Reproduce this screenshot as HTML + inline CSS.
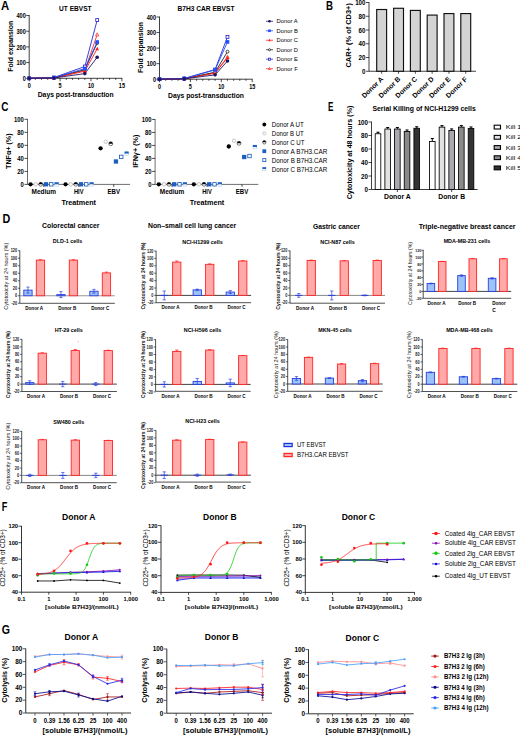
<!DOCTYPE html>
<html><head><meta charset="utf-8"><style>
html,body{margin:0;padding:0;background:#fff;}
body{width:520px;height:739px;overflow:hidden;}
svg{display:block;}
text{font-family:"Liberation Sans", sans-serif;}
</style></head><body>
<svg width="520" height="739" viewBox="0 0 520 739">
<rect width="520" height="739" fill="#fff"/>
<text x="1" y="10.27" font-size="12.6" font-weight="bold" textLength="8.2" lengthAdjust="spacingAndGlyphs">A</text>
<text x="75.3" y="11.38" font-size="6.6" font-weight="bold" text-anchor="middle" textLength="32.5" lengthAdjust="spacingAndGlyphs">UT EBVST</text>
<line x1="29.2" y1="15.1" x2="29.2" y2="78.3" stroke="#000" stroke-width="0.75"/>
<line x1="29.2" y1="78.3" x2="122.3" y2="78.3" stroke="#000" stroke-width="0.75"/>
<line x1="26.2" y1="78.3" x2="29.2" y2="78.3" stroke="#000" stroke-width="0.7"/>
<text x="25.8" y="80.94" font-size="6.5" font-weight="bold" text-anchor="end" textLength="3.11" lengthAdjust="spacingAndGlyphs">0</text>
<line x1="26.2" y1="62.6" x2="29.2" y2="62.6" stroke="#000" stroke-width="0.7"/>
<text x="25.8" y="65.24" font-size="6.5" font-weight="bold" text-anchor="end" textLength="9.34" lengthAdjust="spacingAndGlyphs">100</text>
<line x1="26.2" y1="46.9" x2="29.2" y2="46.9" stroke="#000" stroke-width="0.7"/>
<text x="25.8" y="49.54" font-size="6.5" font-weight="bold" text-anchor="end" textLength="9.34" lengthAdjust="spacingAndGlyphs">200</text>
<line x1="26.2" y1="31.2" x2="29.2" y2="31.2" stroke="#000" stroke-width="0.7"/>
<text x="25.8" y="33.84" font-size="6.5" font-weight="bold" text-anchor="end" textLength="9.34" lengthAdjust="spacingAndGlyphs">300</text>
<line x1="26.2" y1="15.5" x2="29.2" y2="15.5" stroke="#000" stroke-width="0.7"/>
<text x="25.8" y="18.14" font-size="6.5" font-weight="bold" text-anchor="end" textLength="9.34" lengthAdjust="spacingAndGlyphs">400</text>
<line x1="29.2" y1="78.3" x2="29.2" y2="81.3" stroke="#000" stroke-width="0.7"/>
<line x1="35.38" y1="78.3" x2="35.38" y2="79.9" stroke="#000" stroke-width="0.7"/>
<line x1="41.56" y1="78.3" x2="41.56" y2="79.9" stroke="#000" stroke-width="0.7"/>
<line x1="47.74" y1="78.3" x2="47.74" y2="79.9" stroke="#000" stroke-width="0.7"/>
<line x1="53.92" y1="78.3" x2="53.92" y2="79.9" stroke="#000" stroke-width="0.7"/>
<line x1="60.1" y1="78.3" x2="60.1" y2="81.3" stroke="#000" stroke-width="0.7"/>
<line x1="66.28" y1="78.3" x2="66.28" y2="79.9" stroke="#000" stroke-width="0.7"/>
<line x1="72.46" y1="78.3" x2="72.46" y2="79.9" stroke="#000" stroke-width="0.7"/>
<line x1="78.64" y1="78.3" x2="78.64" y2="79.9" stroke="#000" stroke-width="0.7"/>
<line x1="84.82" y1="78.3" x2="84.82" y2="79.9" stroke="#000" stroke-width="0.7"/>
<line x1="91" y1="78.3" x2="91" y2="81.3" stroke="#000" stroke-width="0.7"/>
<line x1="97.18" y1="78.3" x2="97.18" y2="79.9" stroke="#000" stroke-width="0.7"/>
<line x1="103.36" y1="78.3" x2="103.36" y2="79.9" stroke="#000" stroke-width="0.7"/>
<line x1="109.54" y1="78.3" x2="109.54" y2="79.9" stroke="#000" stroke-width="0.7"/>
<line x1="115.72" y1="78.3" x2="115.72" y2="79.9" stroke="#000" stroke-width="0.7"/>
<line x1="121.9" y1="78.3" x2="121.9" y2="81.3" stroke="#000" stroke-width="0.7"/>
<text x="29.2" y="88.07" font-size="6.3" font-weight="bold" text-anchor="middle" textLength="3.06" lengthAdjust="spacingAndGlyphs">0</text>
<text x="60.1" y="88.07" font-size="6.3" font-weight="bold" text-anchor="middle" textLength="3.06" lengthAdjust="spacingAndGlyphs">5</text>
<text x="91" y="88.07" font-size="6.3" font-weight="bold" text-anchor="middle" textLength="6.12" lengthAdjust="spacingAndGlyphs">10</text>
<text x="121.9" y="88.07" font-size="6.3" font-weight="bold" text-anchor="middle" textLength="6.12" lengthAdjust="spacingAndGlyphs">15</text>
<text x="75.7" y="96.94" font-size="6.5" font-weight="bold" text-anchor="middle" textLength="76" lengthAdjust="spacingAndGlyphs">Days post-transduction</text>
<text x="10.2" y="48.72" font-size="7" font-weight="bold" text-anchor="middle" textLength="51" lengthAdjust="spacingAndGlyphs" transform="rotate(-90 10.2 46.2)">Fold expansion</text>
<polyline points="29.2,78.3 53.92,77.52 84.82,66.52 97.18,20.05" stroke="#2a2ad0" stroke-width="0.9" fill="none"/>
<polyline points="29.2,78.3 53.92,77.83 84.82,70.45 97.18,34.65" stroke="#ff3030" stroke-width="0.9" fill="none"/>
<polyline points="29.2,78.3 53.92,77.83 84.82,69.66 97.18,43.13" stroke="#222222" stroke-width="0.9" fill="none"/>
<polyline points="29.2,78.3 53.92,77.83 84.82,71.23 97.18,48.78" stroke="#ff1f1f" stroke-width="0.9" fill="none"/>
<polyline points="29.2,78.3 53.92,77.67 84.82,68.57 97.18,42.03" stroke="#1f4fff" stroke-width="0.9" fill="none"/>
<polyline points="29.2,78.3 53.92,77.99 84.82,73.59 97.18,57.26" stroke="#221466" stroke-width="0.9" fill="none"/>
<rect x="27.76" y="76.86" width="2.88" height="2.88" fill="#fff" stroke="#2a2ad0" stroke-width="0.85"/>
<rect x="52.48" y="76.08" width="2.88" height="2.88" fill="#fff" stroke="#2a2ad0" stroke-width="0.85"/>
<rect x="83.38" y="65.08" width="2.88" height="2.88" fill="#fff" stroke="#2a2ad0" stroke-width="0.85"/>
<rect x="95.74" y="18.61" width="2.88" height="2.88" fill="#fff" stroke="#2a2ad0" stroke-width="0.85"/>
<path d="M29.2,76.5 L30.82,79.56 L27.58,79.56 Z" stroke="#ff3030" stroke-width="0.85" fill="#fff"/>
<path d="M53.92,76.03 L55.54,79.09 L52.3,79.09 Z" stroke="#ff3030" stroke-width="0.85" fill="#fff"/>
<path d="M84.82,68.65 L86.44,71.71 L83.2,71.71 Z" stroke="#ff3030" stroke-width="0.85" fill="#fff"/>
<path d="M97.18,32.85 L98.8,35.91 L95.56,35.91 Z" stroke="#ff3030" stroke-width="0.85" fill="#fff"/>
<circle cx="29.2" cy="78.3" r="1.44" fill="#fff" stroke="#222222" stroke-width="0.85"/>
<circle cx="53.92" cy="77.83" r="1.44" fill="#fff" stroke="#222222" stroke-width="0.85"/>
<circle cx="84.82" cy="69.66" r="1.44" fill="#fff" stroke="#222222" stroke-width="0.85"/>
<circle cx="97.18" cy="43.13" r="1.44" fill="#fff" stroke="#222222" stroke-width="0.85"/>
<path d="M29.2,76.32 L31,79.74 L27.4,79.74 Z" stroke="none" stroke-width="0.8" fill="#ff1f1f"/>
<path d="M53.92,75.85 L55.72,79.27 L52.12,79.27 Z" stroke="none" stroke-width="0.8" fill="#ff1f1f"/>
<path d="M84.82,69.25 L86.62,72.67 L83.02,72.67 Z" stroke="none" stroke-width="0.8" fill="#ff1f1f"/>
<path d="M97.18,46.8 L98.98,50.22 L95.38,50.22 Z" stroke="none" stroke-width="0.8" fill="#ff1f1f"/>
<rect x="27.4" y="76.5" width="3.6" height="3.6" fill="#1f4fff" stroke="none" stroke-width="0.8"/>
<rect x="52.12" y="75.87" width="3.6" height="3.6" fill="#1f4fff" stroke="none" stroke-width="0.8"/>
<rect x="83.02" y="66.77" width="3.6" height="3.6" fill="#1f4fff" stroke="none" stroke-width="0.8"/>
<rect x="95.38" y="40.23" width="3.6" height="3.6" fill="#1f4fff" stroke="none" stroke-width="0.8"/>
<circle cx="29.2" cy="78.3" r="1.8" fill="#221466" stroke="none" stroke-width="0.6"/>
<circle cx="53.92" cy="77.99" r="1.8" fill="#221466" stroke="none" stroke-width="0.6"/>
<circle cx="84.82" cy="73.59" r="1.8" fill="#221466" stroke="none" stroke-width="0.6"/>
<circle cx="97.18" cy="57.26" r="1.8" fill="#221466" stroke="none" stroke-width="0.6"/>
<text x="206" y="11.38" font-size="6.6" font-weight="bold" text-anchor="middle" textLength="57" lengthAdjust="spacingAndGlyphs">B7H3 CAR EBVST</text>
<line x1="159.5" y1="16.6" x2="159.5" y2="79.2" stroke="#000" stroke-width="0.75"/>
<line x1="159.5" y1="79.2" x2="252.6" y2="79.2" stroke="#000" stroke-width="0.75"/>
<line x1="156.5" y1="79.2" x2="159.5" y2="79.2" stroke="#000" stroke-width="0.7"/>
<text x="156.1" y="81.84" font-size="6.5" font-weight="bold" text-anchor="end" textLength="3.11" lengthAdjust="spacingAndGlyphs">0</text>
<line x1="156.5" y1="63.65" x2="159.5" y2="63.65" stroke="#000" stroke-width="0.7"/>
<text x="156.1" y="66.29" font-size="6.5" font-weight="bold" text-anchor="end" textLength="9.34" lengthAdjust="spacingAndGlyphs">100</text>
<line x1="156.5" y1="48.1" x2="159.5" y2="48.1" stroke="#000" stroke-width="0.7"/>
<text x="156.1" y="50.74" font-size="6.5" font-weight="bold" text-anchor="end" textLength="9.34" lengthAdjust="spacingAndGlyphs">200</text>
<line x1="156.5" y1="32.55" x2="159.5" y2="32.55" stroke="#000" stroke-width="0.7"/>
<text x="156.1" y="35.19" font-size="6.5" font-weight="bold" text-anchor="end" textLength="9.34" lengthAdjust="spacingAndGlyphs">300</text>
<line x1="156.5" y1="17" x2="159.5" y2="17" stroke="#000" stroke-width="0.7"/>
<text x="156.1" y="19.64" font-size="6.5" font-weight="bold" text-anchor="end" textLength="9.34" lengthAdjust="spacingAndGlyphs">400</text>
<line x1="159.5" y1="79.2" x2="159.5" y2="82.2" stroke="#000" stroke-width="0.7"/>
<line x1="165.68" y1="79.2" x2="165.68" y2="80.8" stroke="#000" stroke-width="0.7"/>
<line x1="171.86" y1="79.2" x2="171.86" y2="80.8" stroke="#000" stroke-width="0.7"/>
<line x1="178.04" y1="79.2" x2="178.04" y2="80.8" stroke="#000" stroke-width="0.7"/>
<line x1="184.22" y1="79.2" x2="184.22" y2="80.8" stroke="#000" stroke-width="0.7"/>
<line x1="190.4" y1="79.2" x2="190.4" y2="82.2" stroke="#000" stroke-width="0.7"/>
<line x1="196.58" y1="79.2" x2="196.58" y2="80.8" stroke="#000" stroke-width="0.7"/>
<line x1="202.76" y1="79.2" x2="202.76" y2="80.8" stroke="#000" stroke-width="0.7"/>
<line x1="208.94" y1="79.2" x2="208.94" y2="80.8" stroke="#000" stroke-width="0.7"/>
<line x1="215.12" y1="79.2" x2="215.12" y2="80.8" stroke="#000" stroke-width="0.7"/>
<line x1="221.3" y1="79.2" x2="221.3" y2="82.2" stroke="#000" stroke-width="0.7"/>
<line x1="227.48" y1="79.2" x2="227.48" y2="80.8" stroke="#000" stroke-width="0.7"/>
<line x1="233.66" y1="79.2" x2="233.66" y2="80.8" stroke="#000" stroke-width="0.7"/>
<line x1="239.84" y1="79.2" x2="239.84" y2="80.8" stroke="#000" stroke-width="0.7"/>
<line x1="246.02" y1="79.2" x2="246.02" y2="80.8" stroke="#000" stroke-width="0.7"/>
<line x1="252.2" y1="79.2" x2="252.2" y2="82.2" stroke="#000" stroke-width="0.7"/>
<text x="159.5" y="88.97" font-size="6.3" font-weight="bold" text-anchor="middle" textLength="3.06" lengthAdjust="spacingAndGlyphs">0</text>
<text x="190.4" y="88.97" font-size="6.3" font-weight="bold" text-anchor="middle" textLength="3.06" lengthAdjust="spacingAndGlyphs">5</text>
<text x="221.3" y="88.97" font-size="6.3" font-weight="bold" text-anchor="middle" textLength="6.12" lengthAdjust="spacingAndGlyphs">10</text>
<text x="252.2" y="88.97" font-size="6.3" font-weight="bold" text-anchor="middle" textLength="6.12" lengthAdjust="spacingAndGlyphs">15</text>
<text x="206" y="97.84" font-size="6.5" font-weight="bold" text-anchor="middle" textLength="76" lengthAdjust="spacingAndGlyphs">Days post-transduction</text>
<text x="140.4" y="49.92" font-size="7" font-weight="bold" text-anchor="middle" textLength="51" lengthAdjust="spacingAndGlyphs" transform="rotate(-90 140.4 47.4)">Fold expansion</text>
<polyline points="159.5,79.2 184.22,78.42 215.12,69.56 227.48,36.9" stroke="#2a2ad0" stroke-width="0.9" fill="none"/>
<polyline points="159.5,79.2 184.22,78.73 215.12,72.67 227.48,57.12" stroke="#ff3030" stroke-width="0.9" fill="none"/>
<polyline points="159.5,79.2 184.22,78.73 215.12,72.2 227.48,51.68" stroke="#222222" stroke-width="0.9" fill="none"/>
<polyline points="159.5,79.2 184.22,78.73 215.12,73.29 227.48,57.74" stroke="#ff1f1f" stroke-width="0.9" fill="none"/>
<polyline points="159.5,79.2 184.22,78.58 215.12,69.87 227.48,41.88" stroke="#1f4fff" stroke-width="0.9" fill="none"/>
<polyline points="159.5,79.2 184.22,78.89 215.12,74.85 227.48,61.01" stroke="#221466" stroke-width="0.9" fill="none"/>
<rect x="158.06" y="77.76" width="2.88" height="2.88" fill="#fff" stroke="#2a2ad0" stroke-width="0.85"/>
<rect x="182.78" y="76.98" width="2.88" height="2.88" fill="#fff" stroke="#2a2ad0" stroke-width="0.85"/>
<rect x="213.68" y="68.12" width="2.88" height="2.88" fill="#fff" stroke="#2a2ad0" stroke-width="0.85"/>
<rect x="226.04" y="35.46" width="2.88" height="2.88" fill="#fff" stroke="#2a2ad0" stroke-width="0.85"/>
<path d="M159.5,77.4 L161.12,80.46 L157.88,80.46 Z" stroke="#ff3030" stroke-width="0.85" fill="#fff"/>
<path d="M184.22,76.93 L185.84,79.99 L182.6,79.99 Z" stroke="#ff3030" stroke-width="0.85" fill="#fff"/>
<path d="M215.12,70.87 L216.74,73.93 L213.5,73.93 Z" stroke="#ff3030" stroke-width="0.85" fill="#fff"/>
<path d="M227.48,55.32 L229.1,58.38 L225.86,58.38 Z" stroke="#ff3030" stroke-width="0.85" fill="#fff"/>
<circle cx="159.5" cy="79.2" r="1.44" fill="#fff" stroke="#222222" stroke-width="0.85"/>
<circle cx="184.22" cy="78.73" r="1.44" fill="#fff" stroke="#222222" stroke-width="0.85"/>
<circle cx="215.12" cy="72.2" r="1.44" fill="#fff" stroke="#222222" stroke-width="0.85"/>
<circle cx="227.48" cy="51.68" r="1.44" fill="#fff" stroke="#222222" stroke-width="0.85"/>
<path d="M159.5,77.22 L161.3,80.64 L157.7,80.64 Z" stroke="none" stroke-width="0.8" fill="#ff1f1f"/>
<path d="M184.22,76.75 L186.02,80.17 L182.42,80.17 Z" stroke="none" stroke-width="0.8" fill="#ff1f1f"/>
<path d="M215.12,71.31 L216.92,74.73 L213.32,74.73 Z" stroke="none" stroke-width="0.8" fill="#ff1f1f"/>
<path d="M227.48,55.76 L229.28,59.18 L225.68,59.18 Z" stroke="none" stroke-width="0.8" fill="#ff1f1f"/>
<rect x="157.7" y="77.4" width="3.6" height="3.6" fill="#1f4fff" stroke="none" stroke-width="0.8"/>
<rect x="182.42" y="76.78" width="3.6" height="3.6" fill="#1f4fff" stroke="none" stroke-width="0.8"/>
<rect x="213.32" y="68.07" width="3.6" height="3.6" fill="#1f4fff" stroke="none" stroke-width="0.8"/>
<rect x="225.68" y="40.08" width="3.6" height="3.6" fill="#1f4fff" stroke="none" stroke-width="0.8"/>
<circle cx="159.5" cy="79.2" r="1.8" fill="#221466" stroke="none" stroke-width="0.6"/>
<circle cx="184.22" cy="78.89" r="1.8" fill="#221466" stroke="none" stroke-width="0.6"/>
<circle cx="215.12" cy="74.85" r="1.8" fill="#221466" stroke="none" stroke-width="0.6"/>
<circle cx="227.48" cy="61.01" r="1.8" fill="#221466" stroke="none" stroke-width="0.6"/>
<line x1="266" y1="21.3" x2="273" y2="21.3" stroke="#221466" stroke-width="0.75"/>
<circle cx="269.5" cy="21.3" r="1.3" fill="#221466" stroke="none" stroke-width="0.6"/>
<text x="276.6" y="23.46" font-size="6" textLength="21.2" lengthAdjust="spacingAndGlyphs">Donor A</text>
<line x1="266" y1="30.78" x2="273" y2="30.78" stroke="#1f4fff" stroke-width="0.75"/>
<rect x="268.2" y="29.48" width="2.6" height="2.6" fill="#1f4fff" stroke="none" stroke-width="0.8"/>
<text x="276.6" y="32.94" font-size="6" textLength="21.2" lengthAdjust="spacingAndGlyphs">Donor B</text>
<line x1="266" y1="40.26" x2="273" y2="40.26" stroke="#ff1f1f" stroke-width="0.75"/>
<path d="M269.5,38.83 L270.8,41.3 L268.2,41.3 Z" stroke="none" stroke-width="0.8" fill="#ff1f1f"/>
<text x="276.6" y="42.42" font-size="6" textLength="21.2" lengthAdjust="spacingAndGlyphs">Donor C</text>
<line x1="266" y1="49.74" x2="273" y2="49.74" stroke="#222222" stroke-width="0.75"/>
<circle cx="269.5" cy="49.74" r="1.04" fill="#fff" stroke="#222222" stroke-width="0.85"/>
<text x="276.6" y="51.9" font-size="6" textLength="21.2" lengthAdjust="spacingAndGlyphs">Donor D</text>
<line x1="266" y1="59.22" x2="273" y2="59.22" stroke="#2a2ad0" stroke-width="0.75"/>
<rect x="268.46" y="58.18" width="2.08" height="2.08" fill="#fff" stroke="#2a2ad0" stroke-width="0.85"/>
<text x="276.6" y="61.38" font-size="6" textLength="21.2" lengthAdjust="spacingAndGlyphs">Donor E</text>
<line x1="266" y1="68.7" x2="273" y2="68.7" stroke="#ff3030" stroke-width="0.75"/>
<path d="M269.5,67.4 L270.67,69.61 L268.33,69.61 Z" stroke="#ff3030" stroke-width="0.85" fill="#fff"/>
<text x="276.6" y="70.86" font-size="6" textLength="21.2" lengthAdjust="spacingAndGlyphs">Donor F</text>
<text x="326" y="10.07" font-size="12.6" font-weight="bold" textLength="7" lengthAdjust="spacingAndGlyphs">B</text>
<line x1="369" y1="2.1" x2="369" y2="71.25" stroke="#000" stroke-width="0.75"/>
<line x1="369" y1="71.25" x2="476" y2="71.25" stroke="#000" stroke-width="0.75"/>
<line x1="366" y1="71.25" x2="369" y2="71.25" stroke="#000" stroke-width="0.7"/>
<text x="365.5" y="73.85" font-size="6.4" font-weight="bold" text-anchor="end" textLength="3.45" lengthAdjust="spacingAndGlyphs">0</text>
<line x1="366" y1="57.5" x2="369" y2="57.5" stroke="#000" stroke-width="0.7"/>
<text x="365.5" y="60.1" font-size="6.4" font-weight="bold" text-anchor="end" textLength="6.9" lengthAdjust="spacingAndGlyphs">20</text>
<line x1="366" y1="43.75" x2="369" y2="43.75" stroke="#000" stroke-width="0.7"/>
<text x="365.5" y="46.35" font-size="6.4" font-weight="bold" text-anchor="end" textLength="6.9" lengthAdjust="spacingAndGlyphs">40</text>
<line x1="366" y1="30" x2="369" y2="30" stroke="#000" stroke-width="0.7"/>
<text x="365.5" y="32.6" font-size="6.4" font-weight="bold" text-anchor="end" textLength="6.9" lengthAdjust="spacingAndGlyphs">60</text>
<line x1="366" y1="16.25" x2="369" y2="16.25" stroke="#000" stroke-width="0.7"/>
<text x="365.5" y="18.85" font-size="6.4" font-weight="bold" text-anchor="end" textLength="6.9" lengthAdjust="spacingAndGlyphs">80</text>
<line x1="366" y1="2.5" x2="369" y2="2.5" stroke="#000" stroke-width="0.7"/>
<text x="365.5" y="5.1" font-size="6.4" font-weight="bold" text-anchor="end" textLength="10.34" lengthAdjust="spacingAndGlyphs">100</text>
<rect x="376.7" y="9.51" width="9.9" height="61.74" fill="#d4d4d4" stroke="#111" stroke-width="1.15"/>
<line x1="381.65" y1="71.25" x2="381.65" y2="73.75" stroke="#000" stroke-width="0.7"/>
<text x="383.85" y="79.65" font-size="6.9" font-weight="bold" text-anchor="end" transform="rotate(-44 383.85 79.65)" textLength="27" lengthAdjust="spacingAndGlyphs">Donor A</text>
<rect x="393.6" y="8.28" width="9.9" height="62.97" fill="#d4d4d4" stroke="#111" stroke-width="1.15"/>
<line x1="398.55" y1="71.25" x2="398.55" y2="73.75" stroke="#000" stroke-width="0.7"/>
<text x="400.75" y="79.65" font-size="6.9" font-weight="bold" text-anchor="end" transform="rotate(-44 400.75 79.65)" textLength="27" lengthAdjust="spacingAndGlyphs">Donor B</text>
<rect x="410.4" y="10.41" width="9.9" height="60.84" fill="#d4d4d4" stroke="#111" stroke-width="1.15"/>
<line x1="415.35" y1="71.25" x2="415.35" y2="73.75" stroke="#000" stroke-width="0.7"/>
<text x="417.55" y="79.65" font-size="6.9" font-weight="bold" text-anchor="end" transform="rotate(-44 417.55 79.65)" textLength="27" lengthAdjust="spacingAndGlyphs">Donor C</text>
<rect x="427.2" y="15.08" width="9.9" height="56.17" fill="#d4d4d4" stroke="#111" stroke-width="1.15"/>
<line x1="432.15" y1="71.25" x2="432.15" y2="73.75" stroke="#000" stroke-width="0.7"/>
<text x="434.35" y="79.65" font-size="6.9" font-weight="bold" text-anchor="end" transform="rotate(-44 434.35 79.65)" textLength="27" lengthAdjust="spacingAndGlyphs">Donor D</text>
<rect x="444" y="13.57" width="9.9" height="57.68" fill="#d4d4d4" stroke="#111" stroke-width="1.15"/>
<line x1="448.95" y1="71.25" x2="448.95" y2="73.75" stroke="#000" stroke-width="0.7"/>
<text x="451.15" y="79.65" font-size="6.9" font-weight="bold" text-anchor="end" transform="rotate(-44 451.15 79.65)" textLength="27" lengthAdjust="spacingAndGlyphs">Donor E</text>
<rect x="460.8" y="13.57" width="9.9" height="57.68" fill="#d4d4d4" stroke="#111" stroke-width="1.15"/>
<line x1="465.75" y1="71.25" x2="465.75" y2="73.75" stroke="#000" stroke-width="0.7"/>
<text x="467.95" y="79.65" font-size="6.9" font-weight="bold" text-anchor="end" transform="rotate(-44 467.95 79.65)" textLength="27" lengthAdjust="spacingAndGlyphs">Donor F</text>
<text x="348.1" y="37.82" font-size="7" font-weight="bold" text-anchor="middle" textLength="64.5" lengthAdjust="spacingAndGlyphs" transform="rotate(-90 348.1 35.3)">CAR+ (% of CD3+)</text>
<text x="1.2" y="110.67" font-size="12.6" font-weight="bold" textLength="7.2" lengthAdjust="spacingAndGlyphs">C</text>
<line x1="27.5" y1="118.9" x2="27.5" y2="184.4" stroke="#555" stroke-width="0.85"/>
<line x1="27.5" y1="184.4" x2="130.05" y2="184.4" stroke="#555" stroke-width="0.85"/>
<line x1="24.5" y1="184.4" x2="27.5" y2="184.4" stroke="#000" stroke-width="0.7"/>
<text x="23.9" y="187" font-size="6.4" font-weight="bold" text-anchor="end" textLength="3.28" lengthAdjust="spacingAndGlyphs">0</text>
<line x1="24.5" y1="171.38" x2="27.5" y2="171.38" stroke="#000" stroke-width="0.7"/>
<text x="23.9" y="173.98" font-size="6.4" font-weight="bold" text-anchor="end" textLength="6.56" lengthAdjust="spacingAndGlyphs">20</text>
<line x1="24.5" y1="158.36" x2="27.5" y2="158.36" stroke="#000" stroke-width="0.7"/>
<text x="23.9" y="160.96" font-size="6.4" font-weight="bold" text-anchor="end" textLength="6.56" lengthAdjust="spacingAndGlyphs">40</text>
<line x1="24.5" y1="145.34" x2="27.5" y2="145.34" stroke="#000" stroke-width="0.7"/>
<text x="23.9" y="147.94" font-size="6.4" font-weight="bold" text-anchor="end" textLength="6.56" lengthAdjust="spacingAndGlyphs">60</text>
<line x1="24.5" y1="132.32" x2="27.5" y2="132.32" stroke="#000" stroke-width="0.7"/>
<text x="23.9" y="134.92" font-size="6.4" font-weight="bold" text-anchor="end" textLength="6.56" lengthAdjust="spacingAndGlyphs">80</text>
<line x1="24.5" y1="119.3" x2="27.5" y2="119.3" stroke="#000" stroke-width="0.7"/>
<text x="23.9" y="121.9" font-size="6.4" font-weight="bold" text-anchor="end" textLength="9.84" lengthAdjust="spacingAndGlyphs">100</text>
<line x1="43.75" y1="184.4" x2="43.75" y2="186.9" stroke="#000" stroke-width="0.7"/>
<text x="43.75" y="194.1" font-size="6.4" font-weight="bold" text-anchor="middle" textLength="24.5" lengthAdjust="spacingAndGlyphs">Medium</text>
<line x1="78.75" y1="184.4" x2="78.75" y2="186.9" stroke="#000" stroke-width="0.7"/>
<text x="78.75" y="194.1" font-size="6.4" font-weight="bold" text-anchor="middle" textLength="9.5" lengthAdjust="spacingAndGlyphs">HIV</text>
<line x1="113.75" y1="184.4" x2="113.75" y2="186.9" stroke="#000" stroke-width="0.7"/>
<text x="113.75" y="194.1" font-size="6.4" font-weight="bold" text-anchor="middle" textLength="12.5" lengthAdjust="spacingAndGlyphs">EBV</text>
<text x="78.75" y="204.56" font-size="7.1" font-weight="bold" text-anchor="middle" textLength="34.5" lengthAdjust="spacingAndGlyphs">Treatment</text>
<text x="8" y="153.83" font-size="7.3" font-weight="bold" text-anchor="middle" textLength="35.5" lengthAdjust="spacingAndGlyphs" transform="rotate(-90 8 151.2)">TNFα+ (%)</text>
<circle cx="30.55" cy="184.3" r="2.15" fill="#000" stroke="none" stroke-width="0.6"/>
<circle cx="35.75" cy="184.3" r="1.72" fill="#fff" stroke="#bbbbbb" stroke-width="0.85"/>
<circle cx="40.75" cy="184.3" r="1.94" fill="#fff" stroke="#000" stroke-width="0.5"/>
<path d="M38.81,184.3 A1.94,1.94 0 0 1 42.69,184.3 Z" stroke="none" stroke-width="0.8" fill="#000"/>
<rect x="43.8" y="182.15" width="4.3" height="4.3" fill="#1d5fc0" stroke="none" stroke-width="0.8"/>
<rect x="49.53" y="182.58" width="3.44" height="3.44" fill="#fff" stroke="#1d5fc0" stroke-width="0.85"/>
<rect x="54.82" y="182.48" width="3.65" height="3.65" fill="#fff" stroke="#9cc0ee" stroke-width="0.5"/>
<rect x="54.61" y="182.26" width="4.08" height="2.04" fill="#1d5fc0" stroke="none" stroke-width="0.8"/>
<circle cx="65.55" cy="184.3" r="2.15" fill="#000" stroke="none" stroke-width="0.6"/>
<circle cx="70.75" cy="184.3" r="1.72" fill="#fff" stroke="#bbbbbb" stroke-width="0.85"/>
<circle cx="75.75" cy="184.3" r="1.94" fill="#fff" stroke="#000" stroke-width="0.5"/>
<path d="M73.81,184.3 A1.94,1.94 0 0 1 77.69,184.3 Z" stroke="none" stroke-width="0.8" fill="#000"/>
<rect x="78.8" y="182.15" width="4.3" height="4.3" fill="#1d5fc0" stroke="none" stroke-width="0.8"/>
<rect x="84.53" y="182.58" width="3.44" height="3.44" fill="#fff" stroke="#1d5fc0" stroke-width="0.85"/>
<rect x="89.82" y="182.48" width="3.65" height="3.65" fill="#fff" stroke="#9cc0ee" stroke-width="0.5"/>
<rect x="89.61" y="182.26" width="4.08" height="2.04" fill="#1d5fc0" stroke="none" stroke-width="0.8"/>
<circle cx="100.55" cy="148.34" r="2.15" fill="#000" stroke="none" stroke-width="0.6"/>
<circle cx="105.75" cy="141.76" r="1.72" fill="#fff" stroke="#bbbbbb" stroke-width="0.85"/>
<circle cx="110.75" cy="143.74" r="1.94" fill="#fff" stroke="#000" stroke-width="0.5"/>
<path d="M108.81,143.74 A1.94,1.94 0 0 1 112.69,143.74 Z" stroke="none" stroke-width="0.8" fill="#000"/>
<rect x="113.8" y="159.34" width="4.3" height="4.3" fill="#1d5fc0" stroke="none" stroke-width="0.8"/>
<rect x="119.53" y="155.16" width="3.44" height="3.44" fill="#fff" stroke="#1d5fc0" stroke-width="0.85"/>
<rect x="124.82" y="151.77" width="3.65" height="3.65" fill="#fff" stroke="#9cc0ee" stroke-width="0.5"/>
<rect x="124.61" y="151.56" width="4.08" height="2.04" fill="#1d5fc0" stroke="none" stroke-width="0.8"/>
<line x1="155.1" y1="119.05" x2="155.1" y2="184.4" stroke="#555" stroke-width="0.85"/>
<line x1="155.1" y1="184.4" x2="258.3" y2="184.4" stroke="#555" stroke-width="0.85"/>
<line x1="152.1" y1="184.4" x2="155.1" y2="184.4" stroke="#000" stroke-width="0.7"/>
<text x="151.5" y="187" font-size="6.4" font-weight="bold" text-anchor="end" textLength="3.28" lengthAdjust="spacingAndGlyphs">0</text>
<line x1="152.1" y1="171.41" x2="155.1" y2="171.41" stroke="#000" stroke-width="0.7"/>
<text x="151.5" y="174.01" font-size="6.4" font-weight="bold" text-anchor="end" textLength="6.56" lengthAdjust="spacingAndGlyphs">20</text>
<line x1="152.1" y1="158.42" x2="155.1" y2="158.42" stroke="#000" stroke-width="0.7"/>
<text x="151.5" y="161.02" font-size="6.4" font-weight="bold" text-anchor="end" textLength="6.56" lengthAdjust="spacingAndGlyphs">40</text>
<line x1="152.1" y1="145.43" x2="155.1" y2="145.43" stroke="#000" stroke-width="0.7"/>
<text x="151.5" y="148.03" font-size="6.4" font-weight="bold" text-anchor="end" textLength="6.56" lengthAdjust="spacingAndGlyphs">60</text>
<line x1="152.1" y1="132.44" x2="155.1" y2="132.44" stroke="#000" stroke-width="0.7"/>
<text x="151.5" y="135.04" font-size="6.4" font-weight="bold" text-anchor="end" textLength="6.56" lengthAdjust="spacingAndGlyphs">80</text>
<line x1="152.1" y1="119.45" x2="155.1" y2="119.45" stroke="#000" stroke-width="0.7"/>
<text x="151.5" y="122.05" font-size="6.4" font-weight="bold" text-anchor="end" textLength="9.84" lengthAdjust="spacingAndGlyphs">100</text>
<line x1="172" y1="184.4" x2="172" y2="186.9" stroke="#000" stroke-width="0.7"/>
<text x="172" y="194.1" font-size="6.4" font-weight="bold" text-anchor="middle" textLength="24.5" lengthAdjust="spacingAndGlyphs">Medium</text>
<line x1="207" y1="184.4" x2="207" y2="186.9" stroke="#000" stroke-width="0.7"/>
<text x="207" y="194.1" font-size="6.4" font-weight="bold" text-anchor="middle" textLength="9.5" lengthAdjust="spacingAndGlyphs">HIV</text>
<line x1="242" y1="184.4" x2="242" y2="186.9" stroke="#000" stroke-width="0.7"/>
<text x="242" y="194.1" font-size="6.4" font-weight="bold" text-anchor="middle" textLength="12.5" lengthAdjust="spacingAndGlyphs">EBV</text>
<text x="207" y="204.56" font-size="7.1" font-weight="bold" text-anchor="middle" textLength="34.5" lengthAdjust="spacingAndGlyphs">Treatment</text>
<text x="135.6" y="153.83" font-size="7.3" font-weight="bold" text-anchor="middle" textLength="33.2" lengthAdjust="spacingAndGlyphs" transform="rotate(-90 135.6 151.2)">IFNγ+ (%)</text>
<circle cx="158.8" cy="184.3" r="2.15" fill="#000" stroke="none" stroke-width="0.6"/>
<circle cx="164" cy="184.3" r="1.72" fill="#fff" stroke="#bbbbbb" stroke-width="0.85"/>
<circle cx="169" cy="184.3" r="1.94" fill="#fff" stroke="#000" stroke-width="0.5"/>
<path d="M167.06,184.3 A1.94,1.94 0 0 1 170.94,184.3 Z" stroke="none" stroke-width="0.8" fill="#000"/>
<rect x="172.05" y="182.15" width="4.3" height="4.3" fill="#1d5fc0" stroke="none" stroke-width="0.8"/>
<rect x="177.78" y="182.58" width="3.44" height="3.44" fill="#fff" stroke="#1d5fc0" stroke-width="0.85"/>
<rect x="183.07" y="182.48" width="3.65" height="3.65" fill="#fff" stroke="#9cc0ee" stroke-width="0.5"/>
<rect x="182.86" y="182.26" width="4.08" height="2.04" fill="#1d5fc0" stroke="none" stroke-width="0.8"/>
<circle cx="193.8" cy="184.3" r="2.15" fill="#000" stroke="none" stroke-width="0.6"/>
<circle cx="199" cy="184.3" r="1.72" fill="#fff" stroke="#bbbbbb" stroke-width="0.85"/>
<circle cx="204" cy="184.3" r="1.94" fill="#fff" stroke="#000" stroke-width="0.5"/>
<path d="M202.06,184.3 A1.94,1.94 0 0 1 205.94,184.3 Z" stroke="none" stroke-width="0.8" fill="#000"/>
<rect x="207.05" y="182.15" width="4.3" height="4.3" fill="#1d5fc0" stroke="none" stroke-width="0.8"/>
<rect x="212.78" y="182.58" width="3.44" height="3.44" fill="#fff" stroke="#1d5fc0" stroke-width="0.85"/>
<rect x="218.07" y="182.48" width="3.65" height="3.65" fill="#fff" stroke="#9cc0ee" stroke-width="0.5"/>
<rect x="217.86" y="182.26" width="4.08" height="2.04" fill="#1d5fc0" stroke="none" stroke-width="0.8"/>
<circle cx="228.8" cy="146.5" r="2.15" fill="#000" stroke="none" stroke-width="0.6"/>
<circle cx="234" cy="140.78" r="1.72" fill="#fff" stroke="#bbbbbb" stroke-width="0.85"/>
<circle cx="239" cy="143.27" r="1.94" fill="#fff" stroke="#000" stroke-width="0.5"/>
<path d="M237.06,143.27 A1.94,1.94 0 0 1 240.94,143.27 Z" stroke="none" stroke-width="0.8" fill="#000"/>
<rect x="242.05" y="154.87" width="4.3" height="4.3" fill="#1d5fc0" stroke="none" stroke-width="0.8"/>
<rect x="247.78" y="154.31" width="3.44" height="3.44" fill="#fff" stroke="#1d5fc0" stroke-width="0.85"/>
<rect x="253.07" y="145.2" width="3.65" height="3.65" fill="#fff" stroke="#9cc0ee" stroke-width="0.5"/>
<rect x="252.86" y="144.98" width="4.08" height="2.04" fill="#1d5fc0" stroke="none" stroke-width="0.8"/>
<circle cx="264.3" cy="124.5" r="1.9" fill="#000" stroke="none" stroke-width="0.6"/>
<text x="271.8" y="127.02" font-size="7" textLength="32" lengthAdjust="spacingAndGlyphs">Donor A UT</text>
<circle cx="264.3" cy="133.4" r="1.52" fill="#fff" stroke="#bbbbbb" stroke-width="0.85"/>
<text x="271.8" y="135.92" font-size="7" textLength="32" lengthAdjust="spacingAndGlyphs">Donor B UT</text>
<circle cx="264.3" cy="142.3" r="1.71" fill="#fff" stroke="#000" stroke-width="0.5"/>
<path d="M262.59,142.3 A1.71,1.71 0 0 1 266.01,142.3 Z" stroke="none" stroke-width="0.8" fill="#000"/>
<text x="271.8" y="144.82" font-size="7" textLength="32.6" lengthAdjust="spacingAndGlyphs">Donor C UT</text>
<rect x="262.4" y="149.3" width="3.8" height="3.8" fill="#1d5fc0" stroke="none" stroke-width="0.8"/>
<text x="271.8" y="153.72" font-size="7" textLength="55.5" lengthAdjust="spacingAndGlyphs">Donor A B7H3.CAR</text>
<rect x="262.78" y="158.58" width="3.04" height="3.04" fill="#fff" stroke="#1d5fc0" stroke-width="0.85"/>
<text x="271.8" y="162.62" font-size="7" textLength="55.5" lengthAdjust="spacingAndGlyphs">Donor B B7H3.CAR</text>
<rect x="262.69" y="167.38" width="3.23" height="3.23" fill="#fff" stroke="#9cc0ee" stroke-width="0.5"/>
<rect x="262.5" y="167.19" width="3.61" height="1.8" fill="#1d5fc0" stroke="none" stroke-width="0.8"/>
<text x="271.8" y="171.52" font-size="7" textLength="55.5" lengthAdjust="spacingAndGlyphs">Donor C B7H3.CAR</text>
<text x="327.9" y="110.87" font-size="12.6" font-weight="bold" textLength="5.4" lengthAdjust="spacingAndGlyphs">E</text>
<text x="424.1" y="111.21" font-size="6.7" font-weight="bold" text-anchor="middle" textLength="103.3" lengthAdjust="spacingAndGlyphs">Serial Killing of NCI-H1299 cells</text>
<line x1="371.5" y1="121.6" x2="371.5" y2="189.5" stroke="#000" stroke-width="0.75"/>
<line x1="371.5" y1="189.5" x2="477.7" y2="189.5" stroke="#000" stroke-width="0.75"/>
<line x1="368.5" y1="189.5" x2="371.5" y2="189.5" stroke="#000" stroke-width="0.7"/>
<text x="368" y="192.1" font-size="6.4" font-weight="bold" text-anchor="end" textLength="3.45" lengthAdjust="spacingAndGlyphs">0</text>
<line x1="368.5" y1="176" x2="371.5" y2="176" stroke="#000" stroke-width="0.7"/>
<text x="368" y="178.6" font-size="6.4" font-weight="bold" text-anchor="end" textLength="6.9" lengthAdjust="spacingAndGlyphs">20</text>
<line x1="368.5" y1="162.5" x2="371.5" y2="162.5" stroke="#000" stroke-width="0.7"/>
<text x="368" y="165.1" font-size="6.4" font-weight="bold" text-anchor="end" textLength="6.9" lengthAdjust="spacingAndGlyphs">40</text>
<line x1="368.5" y1="149" x2="371.5" y2="149" stroke="#000" stroke-width="0.7"/>
<text x="368" y="151.6" font-size="6.4" font-weight="bold" text-anchor="end" textLength="6.9" lengthAdjust="spacingAndGlyphs">60</text>
<line x1="368.5" y1="135.5" x2="371.5" y2="135.5" stroke="#000" stroke-width="0.7"/>
<text x="368" y="138.1" font-size="6.4" font-weight="bold" text-anchor="end" textLength="6.9" lengthAdjust="spacingAndGlyphs">80</text>
<line x1="368.5" y1="122" x2="371.5" y2="122" stroke="#000" stroke-width="0.7"/>
<text x="368" y="124.6" font-size="6.4" font-weight="bold" text-anchor="end" textLength="10.34" lengthAdjust="spacingAndGlyphs">100</text>
<rect x="375.2" y="133.75" width="5.6" height="55.75" fill="#ffffff" stroke="#000" stroke-width="0.85"/>
<line x1="378" y1="133.75" x2="378" y2="132.25" stroke="#000" stroke-width="0.9"/>
<line x1="376.5" y1="132.25" x2="379.5" y2="132.25" stroke="#000" stroke-width="1.1"/>
<rect x="384.88" y="129.02" width="5.6" height="60.48" fill="#e2e2e2" stroke="#000" stroke-width="0.85"/>
<line x1="387.68" y1="129.02" x2="387.68" y2="127.52" stroke="#000" stroke-width="0.9"/>
<line x1="386.18" y1="127.52" x2="389.18" y2="127.52" stroke="#000" stroke-width="1.1"/>
<rect x="394.56" y="129.02" width="5.6" height="60.48" fill="#a9a9b0" stroke="#000" stroke-width="0.85"/>
<line x1="397.36" y1="129.02" x2="397.36" y2="127.52" stroke="#000" stroke-width="0.9"/>
<line x1="395.86" y1="127.52" x2="398.86" y2="127.52" stroke="#000" stroke-width="1.1"/>
<rect x="404.24" y="131.52" width="5.6" height="57.98" fill="#8a8a8a" stroke="#000" stroke-width="0.85"/>
<line x1="407.04" y1="131.52" x2="407.04" y2="130.02" stroke="#000" stroke-width="0.9"/>
<line x1="405.54" y1="130.02" x2="408.54" y2="130.02" stroke="#000" stroke-width="1.1"/>
<rect x="413.92" y="128.28" width="5.6" height="61.22" fill="#333333" stroke="#000" stroke-width="0.85"/>
<line x1="416.72" y1="128.28" x2="416.72" y2="126.78" stroke="#000" stroke-width="0.9"/>
<line x1="415.22" y1="126.78" x2="418.22" y2="126.78" stroke="#000" stroke-width="1.1"/>
<line x1="397.36" y1="189.5" x2="397.36" y2="192" stroke="#000" stroke-width="0.7"/>
<text x="397.36" y="199.36" font-size="7.1" font-weight="bold" text-anchor="middle" textLength="26.8" lengthAdjust="spacingAndGlyphs">Donor A</text>
<rect x="429.5" y="141.57" width="5.6" height="47.93" fill="#ffffff" stroke="#000" stroke-width="0.85"/>
<line x1="432.3" y1="141.57" x2="432.3" y2="138.57" stroke="#000" stroke-width="0.9"/>
<line x1="430.8" y1="138.57" x2="433.8" y2="138.57" stroke="#000" stroke-width="1.1"/>
<rect x="439.18" y="127.13" width="5.6" height="62.37" fill="#e2e2e2" stroke="#000" stroke-width="0.85"/>
<line x1="441.98" y1="127.13" x2="441.98" y2="125.63" stroke="#000" stroke-width="0.9"/>
<line x1="440.48" y1="125.63" x2="443.48" y2="125.63" stroke="#000" stroke-width="1.1"/>
<rect x="448.86" y="130.44" width="5.6" height="59.06" fill="#a9a9b0" stroke="#000" stroke-width="0.85"/>
<line x1="451.66" y1="130.44" x2="451.66" y2="128.94" stroke="#000" stroke-width="0.9"/>
<line x1="450.16" y1="128.94" x2="453.16" y2="128.94" stroke="#000" stroke-width="1.1"/>
<rect x="458.54" y="127.13" width="5.6" height="62.37" fill="#8a8a8a" stroke="#000" stroke-width="0.85"/>
<line x1="461.34" y1="127.13" x2="461.34" y2="125.63" stroke="#000" stroke-width="0.9"/>
<line x1="459.84" y1="125.63" x2="462.84" y2="125.63" stroke="#000" stroke-width="1.1"/>
<rect x="468.22" y="128.48" width="5.6" height="61.02" fill="#333333" stroke="#000" stroke-width="0.85"/>
<line x1="471.02" y1="128.48" x2="471.02" y2="126.98" stroke="#000" stroke-width="0.9"/>
<line x1="469.52" y1="126.98" x2="472.52" y2="126.98" stroke="#000" stroke-width="1.1"/>
<line x1="451.66" y1="189.5" x2="451.66" y2="192" stroke="#000" stroke-width="0.7"/>
<text x="451.66" y="199.36" font-size="7.1" font-weight="bold" text-anchor="middle" textLength="26.8" lengthAdjust="spacingAndGlyphs">Donor B</text>
<text x="349.7" y="155.13" font-size="7.3" font-weight="bold" text-anchor="middle" textLength="93.7" lengthAdjust="spacingAndGlyphs" transform="rotate(-90 349.7 152.5)">Cytotoxicity at 48 hours (%)</text>
<rect x="494.2" y="125.2" width="6.3" height="3.8" fill="#ffffff" stroke="#000" stroke-width="1.1"/>
<text x="505.7" y="129.26" font-size="6" textLength="15.6" lengthAdjust="spacingAndGlyphs">Kill 1</text>
<rect x="494.2" y="135.4" width="6.3" height="3.8" fill="#e2e2e2" stroke="#000" stroke-width="1.1"/>
<text x="505.7" y="139.46" font-size="6" textLength="15.6" lengthAdjust="spacingAndGlyphs">Kill 2</text>
<rect x="494.2" y="145.6" width="6.3" height="3.8" fill="#a9a9b0" stroke="#000" stroke-width="1.1"/>
<text x="505.7" y="149.66" font-size="6" textLength="15.6" lengthAdjust="spacingAndGlyphs">Kill 3</text>
<rect x="494.2" y="155.8" width="6.3" height="3.8" fill="#8a8a8a" stroke="#000" stroke-width="1.1"/>
<text x="505.7" y="159.86" font-size="6" textLength="15.6" lengthAdjust="spacingAndGlyphs">Kill 4</text>
<rect x="494.2" y="166" width="6.3" height="3.8" fill="#333333" stroke="#000" stroke-width="1.1"/>
<text x="505.7" y="170.06" font-size="6" textLength="15.6" lengthAdjust="spacingAndGlyphs">Kill 5</text>
<text x="2.5" y="223.37" font-size="12.6" font-weight="bold" textLength="7.8" lengthAdjust="spacingAndGlyphs">D</text>
<text x="70.75" y="228.46" font-size="7.4" font-weight="bold" text-anchor="middle" textLength="57.3" lengthAdjust="spacingAndGlyphs">Colorectal cancer</text>
<text x="192.1" y="228.46" font-size="7.4" font-weight="bold" text-anchor="middle" textLength="88.3" lengthAdjust="spacingAndGlyphs">Non–small cell lung cancer</text>
<text x="336.5" y="228.86" font-size="7.4" font-weight="bold" text-anchor="middle" textLength="47" lengthAdjust="spacingAndGlyphs">Gastric cancer</text>
<text x="467.1" y="228.86" font-size="7.4" font-weight="bold" text-anchor="middle" textLength="96.8" lengthAdjust="spacingAndGlyphs">Triple-negative breast cancer</text>
<text x="67.5" y="243.24" font-size="5.4" font-weight="bold" text-anchor="middle">DLD-1 cells</text>
<line x1="19.8" y1="250.45" x2="19.8" y2="303.3" stroke="#333" stroke-width="0.85"/>
<line x1="19.8" y1="303.3" x2="114.8" y2="303.3" stroke="#333" stroke-width="0.85"/>
<line x1="19.8" y1="295.75" x2="114.8" y2="295.75" stroke="#999" stroke-width="1"/>
<line x1="18" y1="303.25" x2="19.8" y2="303.25" stroke="#000" stroke-width="0.6"/>
<text x="17.2" y="304.91" font-size="4.6" font-weight="bold" text-anchor="end" fill="#222" textLength="5.64" lengthAdjust="spacingAndGlyphs">-20</text>
<line x1="18" y1="295.75" x2="19.8" y2="295.75" stroke="#000" stroke-width="0.6"/>
<text x="17.2" y="297.41" font-size="4.6" font-weight="bold" text-anchor="end" fill="#222" textLength="2.17" lengthAdjust="spacingAndGlyphs">0</text>
<line x1="18" y1="288.25" x2="19.8" y2="288.25" stroke="#000" stroke-width="0.6"/>
<text x="17.2" y="289.91" font-size="4.6" font-weight="bold" text-anchor="end" fill="#222" textLength="4.34" lengthAdjust="spacingAndGlyphs">20</text>
<line x1="18" y1="280.75" x2="19.8" y2="280.75" stroke="#000" stroke-width="0.6"/>
<text x="17.2" y="282.41" font-size="4.6" font-weight="bold" text-anchor="end" fill="#222" textLength="4.34" lengthAdjust="spacingAndGlyphs">40</text>
<line x1="18" y1="273.25" x2="19.8" y2="273.25" stroke="#000" stroke-width="0.6"/>
<text x="17.2" y="274.91" font-size="4.6" font-weight="bold" text-anchor="end" fill="#222" textLength="4.34" lengthAdjust="spacingAndGlyphs">60</text>
<line x1="18" y1="265.75" x2="19.8" y2="265.75" stroke="#000" stroke-width="0.6"/>
<text x="17.2" y="267.41" font-size="4.6" font-weight="bold" text-anchor="end" fill="#222" textLength="4.34" lengthAdjust="spacingAndGlyphs">80</text>
<line x1="18" y1="258.25" x2="19.8" y2="258.25" stroke="#000" stroke-width="0.6"/>
<text x="17.2" y="259.91" font-size="4.6" font-weight="bold" text-anchor="end" fill="#222" textLength="6.51" lengthAdjust="spacingAndGlyphs">100</text>
<line x1="18" y1="250.75" x2="19.8" y2="250.75" stroke="#000" stroke-width="0.6"/>
<text x="17.2" y="252.41" font-size="4.6" font-weight="bold" text-anchor="end" fill="#222" textLength="6.51" lengthAdjust="spacingAndGlyphs">120</text>
<text x="6.5" y="278.13" font-size="5.3" text-anchor="middle" fill="#111" textLength="67" lengthAdjust="spacingAndGlyphs" transform="rotate(-90 6.5 276.22)">Cytotoxicity at 24 hours (%)</text>
<rect x="23.8" y="290.12" width="8.3" height="5.62" fill="#9cc3f7" stroke="#2a3fe0" stroke-width="0.9"/>
<line x1="27.95" y1="293.12" x2="27.95" y2="287.12" stroke="#2a3fe0" stroke-width="0.7"/>
<line x1="26.35" y1="287.12" x2="29.55" y2="287.12" stroke="#2a3fe0" stroke-width="0.7"/>
<line x1="26.35" y1="293.12" x2="29.55" y2="293.12" stroke="#2a3fe0" stroke-width="0.7"/>
<rect x="36.3" y="260.12" width="8.3" height="35.62" fill="#ffa9a9" stroke="#ff2525" stroke-width="0.9"/>
<line x1="40.45" y1="260.12" x2="40.45" y2="259.75" stroke="#ff2525" stroke-width="0.7"/>
<line x1="38.85" y1="259.75" x2="42.05" y2="259.75" stroke="#ff2525" stroke-width="0.8"/>
<text x="34.2" y="310.06" font-size="4.9" font-weight="bold" text-anchor="middle" textLength="18" lengthAdjust="spacingAndGlyphs">Donor A</text>
<rect x="56.8" y="294.62" width="8.3" height="1.12" fill="#9cc3f7" stroke="#2a3fe0" stroke-width="0.9"/>
<line x1="60.95" y1="297.62" x2="60.95" y2="291.62" stroke="#2a3fe0" stroke-width="0.7"/>
<line x1="59.35" y1="291.62" x2="62.55" y2="291.62" stroke="#2a3fe0" stroke-width="0.7"/>
<line x1="59.35" y1="297.62" x2="62.55" y2="297.62" stroke="#2a3fe0" stroke-width="0.7"/>
<rect x="69.3" y="260.12" width="8.3" height="35.62" fill="#ffa9a9" stroke="#ff2525" stroke-width="0.9"/>
<line x1="73.45" y1="260.12" x2="73.45" y2="259.75" stroke="#ff2525" stroke-width="0.7"/>
<line x1="71.85" y1="259.75" x2="75.05" y2="259.75" stroke="#ff2525" stroke-width="0.8"/>
<text x="67.2" y="310.06" font-size="4.9" font-weight="bold" text-anchor="middle" textLength="18" lengthAdjust="spacingAndGlyphs">Donor B</text>
<rect x="89.8" y="291.25" width="8.3" height="4.5" fill="#9cc3f7" stroke="#2a3fe0" stroke-width="0.9"/>
<line x1="93.95" y1="293.12" x2="93.95" y2="289.38" stroke="#2a3fe0" stroke-width="0.7"/>
<line x1="92.35" y1="289.38" x2="95.55" y2="289.38" stroke="#2a3fe0" stroke-width="0.7"/>
<line x1="92.35" y1="293.12" x2="95.55" y2="293.12" stroke="#2a3fe0" stroke-width="0.7"/>
<rect x="102.3" y="272.88" width="8.3" height="22.88" fill="#ffa9a9" stroke="#ff2525" stroke-width="0.9"/>
<line x1="106.45" y1="272.88" x2="106.45" y2="272.12" stroke="#ff2525" stroke-width="0.7"/>
<line x1="104.85" y1="272.12" x2="108.05" y2="272.12" stroke="#ff2525" stroke-width="0.8"/>
<text x="100.2" y="310.06" font-size="4.9" font-weight="bold" text-anchor="middle" textLength="18" lengthAdjust="spacingAndGlyphs">Donor C</text>
<text x="202.5" y="243.94" font-size="5.4" font-weight="bold" text-anchor="middle">NCI-H1299 cells</text>
<line x1="156.1" y1="250.7" x2="156.1" y2="302.7" stroke="#333" stroke-width="0.85"/>
<line x1="156.1" y1="302.7" x2="251.1" y2="302.7" stroke="#333" stroke-width="0.85"/>
<line x1="156.1" y1="295.4" x2="251.1" y2="295.4" stroke="#444" stroke-width="1"/>
<line x1="154.3" y1="302.8" x2="156.1" y2="302.8" stroke="#000" stroke-width="0.6"/>
<text x="153.5" y="304.46" font-size="4.6" font-weight="bold" text-anchor="end" fill="#222" textLength="5.64" lengthAdjust="spacingAndGlyphs">-20</text>
<line x1="154.3" y1="295.4" x2="156.1" y2="295.4" stroke="#000" stroke-width="0.6"/>
<text x="153.5" y="297.06" font-size="4.6" font-weight="bold" text-anchor="end" fill="#222" textLength="2.17" lengthAdjust="spacingAndGlyphs">0</text>
<line x1="154.3" y1="288" x2="156.1" y2="288" stroke="#000" stroke-width="0.6"/>
<text x="153.5" y="289.66" font-size="4.6" font-weight="bold" text-anchor="end" fill="#222" textLength="4.34" lengthAdjust="spacingAndGlyphs">20</text>
<line x1="154.3" y1="280.6" x2="156.1" y2="280.6" stroke="#000" stroke-width="0.6"/>
<text x="153.5" y="282.26" font-size="4.6" font-weight="bold" text-anchor="end" fill="#222" textLength="4.34" lengthAdjust="spacingAndGlyphs">40</text>
<line x1="154.3" y1="273.2" x2="156.1" y2="273.2" stroke="#000" stroke-width="0.6"/>
<text x="153.5" y="274.86" font-size="4.6" font-weight="bold" text-anchor="end" fill="#222" textLength="4.34" lengthAdjust="spacingAndGlyphs">60</text>
<line x1="154.3" y1="265.8" x2="156.1" y2="265.8" stroke="#000" stroke-width="0.6"/>
<text x="153.5" y="267.46" font-size="4.6" font-weight="bold" text-anchor="end" fill="#222" textLength="4.34" lengthAdjust="spacingAndGlyphs">80</text>
<line x1="154.3" y1="258.4" x2="156.1" y2="258.4" stroke="#000" stroke-width="0.6"/>
<text x="153.5" y="260.06" font-size="4.6" font-weight="bold" text-anchor="end" fill="#222" textLength="6.51" lengthAdjust="spacingAndGlyphs">100</text>
<line x1="154.3" y1="251" x2="156.1" y2="251" stroke="#000" stroke-width="0.6"/>
<text x="153.5" y="252.66" font-size="4.6" font-weight="bold" text-anchor="end" fill="#222" textLength="6.51" lengthAdjust="spacingAndGlyphs">120</text>
<text x="143.3" y="277.96" font-size="5.3" font-weight="bold" text-anchor="middle" fill="#111" textLength="67" lengthAdjust="spacingAndGlyphs" transform="rotate(-90 143.3 276.05)">Cytotoxicity at 24 hours (%)</text>
<line x1="160.6" y1="295.4" x2="167.9" y2="295.4" stroke="#2a3fe0" stroke-width="1"/>
<line x1="164.25" y1="299.84" x2="164.25" y2="290.96" stroke="#2a3fe0" stroke-width="0.7"/>
<line x1="162.65" y1="290.96" x2="165.85" y2="290.96" stroke="#2a3fe0" stroke-width="0.7"/>
<line x1="162.65" y1="299.84" x2="165.85" y2="299.84" stroke="#2a3fe0" stroke-width="0.7"/>
<rect x="172.6" y="262.1" width="8.3" height="33.3" fill="#ffa9a9" stroke="#ff2525" stroke-width="0.9"/>
<line x1="176.75" y1="262.1" x2="176.75" y2="260.99" stroke="#ff2525" stroke-width="0.7"/>
<line x1="175.15" y1="260.99" x2="178.35" y2="260.99" stroke="#ff2525" stroke-width="0.8"/>
<text x="170.5" y="309.46" font-size="4.9" font-weight="bold" text-anchor="middle" textLength="18" lengthAdjust="spacingAndGlyphs">Donor A</text>
<rect x="193.1" y="289.85" width="8.3" height="5.55" fill="#9cc3f7" stroke="#2a3fe0" stroke-width="0.9"/>
<line x1="197.25" y1="290.59" x2="197.25" y2="289.11" stroke="#2a3fe0" stroke-width="0.7"/>
<line x1="195.65" y1="289.11" x2="198.85" y2="289.11" stroke="#2a3fe0" stroke-width="0.7"/>
<line x1="195.65" y1="290.59" x2="198.85" y2="290.59" stroke="#2a3fe0" stroke-width="0.7"/>
<rect x="205.6" y="264.32" width="8.3" height="31.08" fill="#ffa9a9" stroke="#ff2525" stroke-width="0.9"/>
<line x1="209.75" y1="264.32" x2="209.75" y2="263.95" stroke="#ff2525" stroke-width="0.7"/>
<line x1="208.15" y1="263.95" x2="211.35" y2="263.95" stroke="#ff2525" stroke-width="0.8"/>
<text x="203.5" y="309.46" font-size="4.9" font-weight="bold" text-anchor="middle" textLength="18" lengthAdjust="spacingAndGlyphs">Donor B</text>
<rect x="226.1" y="292.07" width="8.3" height="3.33" fill="#9cc3f7" stroke="#2a3fe0" stroke-width="0.9"/>
<line x1="230.25" y1="293.55" x2="230.25" y2="290.59" stroke="#2a3fe0" stroke-width="0.7"/>
<line x1="228.65" y1="290.59" x2="231.85" y2="290.59" stroke="#2a3fe0" stroke-width="0.7"/>
<line x1="228.65" y1="293.55" x2="231.85" y2="293.55" stroke="#2a3fe0" stroke-width="0.7"/>
<rect x="238.6" y="260.99" width="8.3" height="34.41" fill="#ffa9a9" stroke="#ff2525" stroke-width="0.9"/>
<line x1="242.75" y1="260.99" x2="242.75" y2="260.62" stroke="#ff2525" stroke-width="0.7"/>
<line x1="241.15" y1="260.62" x2="244.35" y2="260.62" stroke="#ff2525" stroke-width="0.8"/>
<text x="236.5" y="309.46" font-size="4.9" font-weight="bold" text-anchor="middle" textLength="18" lengthAdjust="spacingAndGlyphs">Donor C</text>
<text x="337.5" y="243.94" font-size="5.4" font-weight="bold" text-anchor="middle">NCI-N87 cells</text>
<line x1="290" y1="250.5" x2="290" y2="303.2" stroke="#333" stroke-width="0.85"/>
<line x1="290" y1="303.2" x2="385" y2="303.2" stroke="#333" stroke-width="0.85"/>
<line x1="290" y1="295.4" x2="385" y2="295.4" stroke="#888" stroke-width="1"/>
<line x1="288.2" y1="302.83" x2="290" y2="302.83" stroke="#000" stroke-width="0.6"/>
<text x="287.4" y="304.49" font-size="4.6" font-weight="bold" text-anchor="end" fill="#222" textLength="5.64" lengthAdjust="spacingAndGlyphs">-20</text>
<line x1="288.2" y1="295.4" x2="290" y2="295.4" stroke="#000" stroke-width="0.6"/>
<text x="287.4" y="297.06" font-size="4.6" font-weight="bold" text-anchor="end" fill="#222" textLength="2.17" lengthAdjust="spacingAndGlyphs">0</text>
<line x1="288.2" y1="287.97" x2="290" y2="287.97" stroke="#000" stroke-width="0.6"/>
<text x="287.4" y="289.62" font-size="4.6" font-weight="bold" text-anchor="end" fill="#222" textLength="4.34" lengthAdjust="spacingAndGlyphs">20</text>
<line x1="288.2" y1="280.53" x2="290" y2="280.53" stroke="#000" stroke-width="0.6"/>
<text x="287.4" y="282.19" font-size="4.6" font-weight="bold" text-anchor="end" fill="#222" textLength="4.34" lengthAdjust="spacingAndGlyphs">40</text>
<line x1="288.2" y1="273.1" x2="290" y2="273.1" stroke="#000" stroke-width="0.6"/>
<text x="287.4" y="274.76" font-size="4.6" font-weight="bold" text-anchor="end" fill="#222" textLength="4.34" lengthAdjust="spacingAndGlyphs">60</text>
<line x1="288.2" y1="265.67" x2="290" y2="265.67" stroke="#000" stroke-width="0.6"/>
<text x="287.4" y="267.32" font-size="4.6" font-weight="bold" text-anchor="end" fill="#222" textLength="4.34" lengthAdjust="spacingAndGlyphs">80</text>
<line x1="288.2" y1="258.23" x2="290" y2="258.23" stroke="#000" stroke-width="0.6"/>
<text x="287.4" y="259.89" font-size="4.6" font-weight="bold" text-anchor="end" fill="#222" textLength="6.51" lengthAdjust="spacingAndGlyphs">100</text>
<line x1="288.2" y1="250.8" x2="290" y2="250.8" stroke="#000" stroke-width="0.6"/>
<text x="287.4" y="252.46" font-size="4.6" font-weight="bold" text-anchor="end" fill="#222" textLength="6.51" lengthAdjust="spacingAndGlyphs">120</text>
<text x="277.7" y="278.11" font-size="5.3" font-weight="bold" text-anchor="middle" fill="#111" textLength="67" lengthAdjust="spacingAndGlyphs" transform="rotate(-90 277.7 276.2)">Cytotoxicity at 24 hours (%)</text>
<line x1="295.1" y1="295.4" x2="302.4" y2="295.4" stroke="#2a3fe0" stroke-width="1"/>
<line x1="298.75" y1="297.26" x2="298.75" y2="293.54" stroke="#2a3fe0" stroke-width="0.7"/>
<line x1="297.15" y1="293.54" x2="300.35" y2="293.54" stroke="#2a3fe0" stroke-width="0.7"/>
<line x1="297.15" y1="297.26" x2="300.35" y2="297.26" stroke="#2a3fe0" stroke-width="0.7"/>
<rect x="307.1" y="260.46" width="8.3" height="34.94" fill="#ffa9a9" stroke="#ff2525" stroke-width="0.9"/>
<line x1="311.25" y1="260.46" x2="311.25" y2="260.09" stroke="#ff2525" stroke-width="0.7"/>
<line x1="309.65" y1="260.09" x2="312.85" y2="260.09" stroke="#ff2525" stroke-width="0.8"/>
<text x="305" y="309.96" font-size="4.9" font-weight="bold" text-anchor="middle" textLength="18" lengthAdjust="spacingAndGlyphs">Donor A</text>
<line x1="328.1" y1="295.4" x2="335.4" y2="295.4" stroke="#2a3fe0" stroke-width="1"/>
<line x1="331.75" y1="299.86" x2="331.75" y2="290.94" stroke="#2a3fe0" stroke-width="0.7"/>
<line x1="330.15" y1="290.94" x2="333.35" y2="290.94" stroke="#2a3fe0" stroke-width="0.7"/>
<line x1="330.15" y1="299.86" x2="333.35" y2="299.86" stroke="#2a3fe0" stroke-width="0.7"/>
<rect x="340.1" y="260.84" width="8.3" height="34.56" fill="#ffa9a9" stroke="#ff2525" stroke-width="0.9"/>
<line x1="344.25" y1="260.84" x2="344.25" y2="260.65" stroke="#ff2525" stroke-width="0.7"/>
<line x1="342.65" y1="260.65" x2="345.85" y2="260.65" stroke="#ff2525" stroke-width="0.8"/>
<text x="338" y="309.96" font-size="4.9" font-weight="bold" text-anchor="middle" textLength="18" lengthAdjust="spacingAndGlyphs">Donor B</text>
<line x1="361.1" y1="295.4" x2="368.4" y2="295.4" stroke="#2a3fe0" stroke-width="1"/>
<line x1="364.75" y1="295.77" x2="364.75" y2="295.03" stroke="#2a3fe0" stroke-width="0.7"/>
<line x1="363.15" y1="295.03" x2="366.35" y2="295.03" stroke="#2a3fe0" stroke-width="0.7"/>
<line x1="363.15" y1="295.77" x2="366.35" y2="295.77" stroke="#2a3fe0" stroke-width="0.7"/>
<rect x="373.1" y="260.46" width="8.3" height="34.94" fill="#ffa9a9" stroke="#ff2525" stroke-width="0.9"/>
<line x1="377.25" y1="260.46" x2="377.25" y2="260.09" stroke="#ff2525" stroke-width="0.7"/>
<line x1="375.65" y1="260.09" x2="378.85" y2="260.09" stroke="#ff2525" stroke-width="0.8"/>
<text x="371" y="309.96" font-size="4.9" font-weight="bold" text-anchor="middle" textLength="18" lengthAdjust="spacingAndGlyphs">Donor C</text>
<text x="467" y="243.24" font-size="5.4" font-weight="bold" text-anchor="middle">MDA-MB-231 cells</text>
<line x1="423.2" y1="249.9" x2="423.2" y2="298.3" stroke="#333" stroke-width="0.85"/>
<line x1="423.2" y1="298.3" x2="511.2" y2="298.3" stroke="#333" stroke-width="0.85"/>
<line x1="423.2" y1="291.4" x2="511.2" y2="291.4" stroke="#444" stroke-width="1"/>
<line x1="421.4" y1="298.27" x2="423.2" y2="298.27" stroke="#000" stroke-width="0.6"/>
<text x="421.2" y="299.85" font-size="4.4" font-weight="bold" text-anchor="end" fill="#222" textLength="5.2" lengthAdjust="spacingAndGlyphs">-20</text>
<line x1="421.4" y1="291.4" x2="423.2" y2="291.4" stroke="#000" stroke-width="0.6"/>
<text x="421.2" y="292.98" font-size="4.4" font-weight="bold" text-anchor="end" fill="#222" textLength="2" lengthAdjust="spacingAndGlyphs">0</text>
<line x1="421.4" y1="284.53" x2="423.2" y2="284.53" stroke="#000" stroke-width="0.6"/>
<text x="421.2" y="286.12" font-size="4.4" font-weight="bold" text-anchor="end" fill="#222" textLength="4" lengthAdjust="spacingAndGlyphs">20</text>
<line x1="421.4" y1="277.67" x2="423.2" y2="277.67" stroke="#000" stroke-width="0.6"/>
<text x="421.2" y="279.25" font-size="4.4" font-weight="bold" text-anchor="end" fill="#222" textLength="4" lengthAdjust="spacingAndGlyphs">40</text>
<line x1="421.4" y1="270.8" x2="423.2" y2="270.8" stroke="#000" stroke-width="0.6"/>
<text x="421.2" y="272.38" font-size="4.4" font-weight="bold" text-anchor="end" fill="#222" textLength="4" lengthAdjust="spacingAndGlyphs">60</text>
<line x1="421.4" y1="263.93" x2="423.2" y2="263.93" stroke="#000" stroke-width="0.6"/>
<text x="421.2" y="265.52" font-size="4.4" font-weight="bold" text-anchor="end" fill="#222" textLength="4" lengthAdjust="spacingAndGlyphs">80</text>
<line x1="421.4" y1="257.07" x2="423.2" y2="257.07" stroke="#000" stroke-width="0.6"/>
<text x="421.2" y="258.65" font-size="4.4" font-weight="bold" text-anchor="end" fill="#222" textLength="6.01" lengthAdjust="spacingAndGlyphs">100</text>
<line x1="421.4" y1="250.2" x2="423.2" y2="250.2" stroke="#000" stroke-width="0.6"/>
<text x="421.2" y="251.78" font-size="4.4" font-weight="bold" text-anchor="end" fill="#222" textLength="6.01" lengthAdjust="spacingAndGlyphs">120</text>
<text x="410.5" y="275.36" font-size="5.3" text-anchor="middle" fill="#111" textLength="63" lengthAdjust="spacingAndGlyphs" transform="rotate(-90 410.5 273.45)">Cytotoxicity at 24 hours (%)</text>
<rect x="427.1" y="283.5" width="7.6" height="7.9" fill="#9cc3f7" stroke="#2a3fe0" stroke-width="0.9"/>
<line x1="430.9" y1="283.85" x2="430.9" y2="283.16" stroke="#2a3fe0" stroke-width="0.7"/>
<line x1="429.3" y1="283.16" x2="432.5" y2="283.16" stroke="#2a3fe0" stroke-width="0.7"/>
<line x1="429.3" y1="283.85" x2="432.5" y2="283.85" stroke="#2a3fe0" stroke-width="0.7"/>
<rect x="438.4" y="261.53" width="7.6" height="29.87" fill="#ffa9a9" stroke="#ff2525" stroke-width="0.9"/>
<line x1="442.2" y1="261.53" x2="442.2" y2="261.36" stroke="#ff2525" stroke-width="0.7"/>
<line x1="440.6" y1="261.36" x2="443.8" y2="261.36" stroke="#ff2525" stroke-width="0.8"/>
<text x="436.55" y="305.26" font-size="4.9" font-weight="bold" text-anchor="middle" textLength="18" lengthAdjust="spacingAndGlyphs">Donor A</text>
<rect x="457.7" y="275.61" width="7.6" height="15.79" fill="#9cc3f7" stroke="#2a3fe0" stroke-width="0.9"/>
<line x1="461.5" y1="276.29" x2="461.5" y2="274.92" stroke="#2a3fe0" stroke-width="0.7"/>
<line x1="459.9" y1="274.92" x2="463.1" y2="274.92" stroke="#2a3fe0" stroke-width="0.7"/>
<line x1="459.9" y1="276.29" x2="463.1" y2="276.29" stroke="#2a3fe0" stroke-width="0.7"/>
<rect x="469" y="258.78" width="7.6" height="32.62" fill="#ffa9a9" stroke="#ff2525" stroke-width="0.9"/>
<line x1="472.8" y1="258.78" x2="472.8" y2="258.44" stroke="#ff2525" stroke-width="0.7"/>
<line x1="471.2" y1="258.44" x2="474.4" y2="258.44" stroke="#ff2525" stroke-width="0.8"/>
<text x="467.15" y="305.26" font-size="4.9" font-weight="bold" text-anchor="middle" textLength="18" lengthAdjust="spacingAndGlyphs">Donor B</text>
<rect x="488.3" y="278.35" width="7.6" height="13.05" fill="#9cc3f7" stroke="#2a3fe0" stroke-width="0.9"/>
<line x1="492.1" y1="279.04" x2="492.1" y2="277.67" stroke="#2a3fe0" stroke-width="0.7"/>
<line x1="490.5" y1="277.67" x2="493.7" y2="277.67" stroke="#2a3fe0" stroke-width="0.7"/>
<line x1="490.5" y1="279.04" x2="493.7" y2="279.04" stroke="#2a3fe0" stroke-width="0.7"/>
<rect x="499.6" y="258.78" width="7.6" height="32.62" fill="#ffa9a9" stroke="#ff2525" stroke-width="0.9"/>
<line x1="503.4" y1="258.78" x2="503.4" y2="258.61" stroke="#ff2525" stroke-width="0.7"/>
<line x1="501.8" y1="258.61" x2="505" y2="258.61" stroke="#ff2525" stroke-width="0.8"/>
<text x="492.2" y="305.26" font-size="4.9" font-weight="bold" textLength="13.5" lengthAdjust="spacingAndGlyphs">Donor</text>
<text x="492.2" y="312.06" font-size="4.9" font-weight="bold">C</text>
<text x="68.75" y="331.94" font-size="5.4" font-weight="bold" text-anchor="middle">HT-29 cells</text>
<line x1="21.9" y1="339.1" x2="21.9" y2="391.5" stroke="#333" stroke-width="0.85"/>
<line x1="21.9" y1="391.5" x2="116.9" y2="391.5" stroke="#333" stroke-width="0.85"/>
<line x1="21.9" y1="384.1" x2="116.9" y2="384.1" stroke="#444" stroke-width="1"/>
<line x1="20.1" y1="391.55" x2="21.9" y2="391.55" stroke="#000" stroke-width="0.6"/>
<text x="19.3" y="393.21" font-size="4.6" font-weight="bold" text-anchor="end" fill="#222" textLength="5.64" lengthAdjust="spacingAndGlyphs">-20</text>
<line x1="20.1" y1="384.1" x2="21.9" y2="384.1" stroke="#000" stroke-width="0.6"/>
<text x="19.3" y="385.76" font-size="4.6" font-weight="bold" text-anchor="end" fill="#222" textLength="2.17" lengthAdjust="spacingAndGlyphs">0</text>
<line x1="20.1" y1="376.65" x2="21.9" y2="376.65" stroke="#000" stroke-width="0.6"/>
<text x="19.3" y="378.31" font-size="4.6" font-weight="bold" text-anchor="end" fill="#222" textLength="4.34" lengthAdjust="spacingAndGlyphs">20</text>
<line x1="20.1" y1="369.2" x2="21.9" y2="369.2" stroke="#000" stroke-width="0.6"/>
<text x="19.3" y="370.86" font-size="4.6" font-weight="bold" text-anchor="end" fill="#222" textLength="4.34" lengthAdjust="spacingAndGlyphs">40</text>
<line x1="20.1" y1="361.75" x2="21.9" y2="361.75" stroke="#000" stroke-width="0.6"/>
<text x="19.3" y="363.41" font-size="4.6" font-weight="bold" text-anchor="end" fill="#222" textLength="4.34" lengthAdjust="spacingAndGlyphs">60</text>
<line x1="20.1" y1="354.3" x2="21.9" y2="354.3" stroke="#000" stroke-width="0.6"/>
<text x="19.3" y="355.96" font-size="4.6" font-weight="bold" text-anchor="end" fill="#222" textLength="4.34" lengthAdjust="spacingAndGlyphs">80</text>
<line x1="20.1" y1="346.85" x2="21.9" y2="346.85" stroke="#000" stroke-width="0.6"/>
<text x="19.3" y="348.51" font-size="4.6" font-weight="bold" text-anchor="end" fill="#222" textLength="6.51" lengthAdjust="spacingAndGlyphs">100</text>
<line x1="20.1" y1="339.4" x2="21.9" y2="339.4" stroke="#000" stroke-width="0.6"/>
<text x="19.3" y="341.06" font-size="4.6" font-weight="bold" text-anchor="end" fill="#222" textLength="6.51" lengthAdjust="spacingAndGlyphs">120</text>
<text x="8.2" y="366.56" font-size="5.3" font-weight="bold" text-anchor="middle" fill="#111" textLength="67" lengthAdjust="spacingAndGlyphs" transform="rotate(-90 8.2 364.65)">Cytotoxicity at 24 hours (%)</text>
<rect x="25.6" y="382.61" width="8.3" height="1.49" fill="#9cc3f7" stroke="#2a3fe0" stroke-width="0.9"/>
<line x1="29.75" y1="384.47" x2="29.75" y2="380.75" stroke="#2a3fe0" stroke-width="0.7"/>
<line x1="28.15" y1="380.75" x2="31.35" y2="380.75" stroke="#2a3fe0" stroke-width="0.7"/>
<line x1="28.15" y1="384.47" x2="31.35" y2="384.47" stroke="#2a3fe0" stroke-width="0.7"/>
<rect x="38.1" y="353.18" width="8.3" height="30.92" fill="#ffa9a9" stroke="#ff2525" stroke-width="0.9"/>
<line x1="42.25" y1="353.18" x2="42.25" y2="352.81" stroke="#ff2525" stroke-width="0.7"/>
<line x1="40.65" y1="352.81" x2="43.85" y2="352.81" stroke="#ff2525" stroke-width="0.8"/>
<text x="36" y="398.26" font-size="4.9" font-weight="bold" text-anchor="middle" textLength="18" lengthAdjust="spacingAndGlyphs">Donor A</text>
<line x1="59.1" y1="384.1" x2="66.4" y2="384.1" stroke="#2a3fe0" stroke-width="1"/>
<line x1="62.75" y1="386.71" x2="62.75" y2="381.49" stroke="#2a3fe0" stroke-width="0.7"/>
<line x1="61.15" y1="381.49" x2="64.35" y2="381.49" stroke="#2a3fe0" stroke-width="0.7"/>
<line x1="61.15" y1="386.71" x2="64.35" y2="386.71" stroke="#2a3fe0" stroke-width="0.7"/>
<rect x="71.1" y="350.57" width="8.3" height="33.53" fill="#ffa9a9" stroke="#ff2525" stroke-width="0.9"/>
<line x1="75.25" y1="350.57" x2="75.25" y2="349.46" stroke="#ff2525" stroke-width="0.7"/>
<line x1="73.65" y1="349.46" x2="76.85" y2="349.46" stroke="#ff2525" stroke-width="0.8"/>
<text x="69" y="398.26" font-size="4.9" font-weight="bold" text-anchor="middle" textLength="18" lengthAdjust="spacingAndGlyphs">Donor B</text>
<line x1="92.1" y1="384.1" x2="99.4" y2="384.1" stroke="#2a3fe0" stroke-width="1"/>
<line x1="95.75" y1="385.59" x2="95.75" y2="382.61" stroke="#2a3fe0" stroke-width="0.7"/>
<line x1="94.15" y1="382.61" x2="97.35" y2="382.61" stroke="#2a3fe0" stroke-width="0.7"/>
<line x1="94.15" y1="385.59" x2="97.35" y2="385.59" stroke="#2a3fe0" stroke-width="0.7"/>
<rect x="104.1" y="350.57" width="8.3" height="33.53" fill="#ffa9a9" stroke="#ff2525" stroke-width="0.9"/>
<line x1="108.25" y1="350.57" x2="108.25" y2="350.2" stroke="#ff2525" stroke-width="0.7"/>
<line x1="106.65" y1="350.2" x2="109.85" y2="350.2" stroke="#ff2525" stroke-width="0.8"/>
<text x="102" y="398.26" font-size="4.9" font-weight="bold" text-anchor="middle" textLength="18" lengthAdjust="spacingAndGlyphs">Donor C</text>
<text x="202.5" y="331.94" font-size="5.4" font-weight="bold" text-anchor="middle">NCI-H596 cells</text>
<line x1="155.6" y1="339.3" x2="155.6" y2="391.3" stroke="#333" stroke-width="0.85"/>
<line x1="155.6" y1="391.3" x2="250.6" y2="391.3" stroke="#333" stroke-width="0.85"/>
<line x1="155.6" y1="384.4" x2="250.6" y2="384.4" stroke="#444" stroke-width="1"/>
<line x1="153.8" y1="391.87" x2="155.6" y2="391.87" stroke="#000" stroke-width="0.6"/>
<text x="153" y="393.52" font-size="4.6" font-weight="bold" text-anchor="end" fill="#222" textLength="5.64" lengthAdjust="spacingAndGlyphs">-20</text>
<line x1="153.8" y1="384.4" x2="155.6" y2="384.4" stroke="#000" stroke-width="0.6"/>
<text x="153" y="386.06" font-size="4.6" font-weight="bold" text-anchor="end" fill="#222" textLength="2.17" lengthAdjust="spacingAndGlyphs">0</text>
<line x1="153.8" y1="376.93" x2="155.6" y2="376.93" stroke="#000" stroke-width="0.6"/>
<text x="153" y="378.59" font-size="4.6" font-weight="bold" text-anchor="end" fill="#222" textLength="4.34" lengthAdjust="spacingAndGlyphs">20</text>
<line x1="153.8" y1="369.47" x2="155.6" y2="369.47" stroke="#000" stroke-width="0.6"/>
<text x="153" y="371.12" font-size="4.6" font-weight="bold" text-anchor="end" fill="#222" textLength="4.34" lengthAdjust="spacingAndGlyphs">40</text>
<line x1="153.8" y1="362" x2="155.6" y2="362" stroke="#000" stroke-width="0.6"/>
<text x="153" y="363.66" font-size="4.6" font-weight="bold" text-anchor="end" fill="#222" textLength="4.34" lengthAdjust="spacingAndGlyphs">60</text>
<line x1="153.8" y1="354.53" x2="155.6" y2="354.53" stroke="#000" stroke-width="0.6"/>
<text x="153" y="356.19" font-size="4.6" font-weight="bold" text-anchor="end" fill="#222" textLength="4.34" lengthAdjust="spacingAndGlyphs">80</text>
<line x1="153.8" y1="347.07" x2="155.6" y2="347.07" stroke="#000" stroke-width="0.6"/>
<text x="153" y="348.72" font-size="4.6" font-weight="bold" text-anchor="end" fill="#222" textLength="6.51" lengthAdjust="spacingAndGlyphs">100</text>
<line x1="153.8" y1="339.6" x2="155.6" y2="339.6" stroke="#000" stroke-width="0.6"/>
<text x="153" y="341.26" font-size="4.6" font-weight="bold" text-anchor="end" fill="#222" textLength="6.51" lengthAdjust="spacingAndGlyphs">120</text>
<text x="143.3" y="366.56" font-size="5.3" font-weight="bold" text-anchor="middle" fill="#111" textLength="67" lengthAdjust="spacingAndGlyphs" transform="rotate(-90 143.3 364.65)">Cytotoxicity at 24 hours (%)</text>
<line x1="160.6" y1="384.4" x2="167.9" y2="384.4" stroke="#2a3fe0" stroke-width="1"/>
<line x1="164.25" y1="387.01" x2="164.25" y2="381.79" stroke="#2a3fe0" stroke-width="0.7"/>
<line x1="162.65" y1="381.79" x2="165.85" y2="381.79" stroke="#2a3fe0" stroke-width="0.7"/>
<line x1="162.65" y1="387.01" x2="165.85" y2="387.01" stroke="#2a3fe0" stroke-width="0.7"/>
<rect x="172.6" y="351.55" width="8.3" height="32.85" fill="#ffa9a9" stroke="#ff2525" stroke-width="0.9"/>
<line x1="176.75" y1="351.55" x2="176.75" y2="350.05" stroke="#ff2525" stroke-width="0.7"/>
<line x1="175.15" y1="350.05" x2="178.35" y2="350.05" stroke="#ff2525" stroke-width="0.8"/>
<text x="170.5" y="398.06" font-size="4.9" font-weight="bold" text-anchor="middle" textLength="18" lengthAdjust="spacingAndGlyphs">Donor A</text>
<rect x="193.1" y="381.41" width="8.3" height="2.99" fill="#9cc3f7" stroke="#2a3fe0" stroke-width="0.9"/>
<line x1="197.25" y1="384.4" x2="197.25" y2="378.43" stroke="#2a3fe0" stroke-width="0.7"/>
<line x1="195.65" y1="378.43" x2="198.85" y2="378.43" stroke="#2a3fe0" stroke-width="0.7"/>
<line x1="195.65" y1="384.4" x2="198.85" y2="384.4" stroke="#2a3fe0" stroke-width="0.7"/>
<rect x="205.6" y="350.05" width="8.3" height="34.35" fill="#ffa9a9" stroke="#ff2525" stroke-width="0.9"/>
<line x1="209.75" y1="350.05" x2="209.75" y2="349.68" stroke="#ff2525" stroke-width="0.7"/>
<line x1="208.15" y1="349.68" x2="211.35" y2="349.68" stroke="#ff2525" stroke-width="0.8"/>
<text x="203.5" y="398.06" font-size="4.9" font-weight="bold" text-anchor="middle" textLength="18" lengthAdjust="spacingAndGlyphs">Donor B</text>
<rect x="226.1" y="382.91" width="8.3" height="1.49" fill="#9cc3f7" stroke="#2a3fe0" stroke-width="0.9"/>
<line x1="230.25" y1="386.64" x2="230.25" y2="379.17" stroke="#2a3fe0" stroke-width="0.7"/>
<line x1="228.65" y1="379.17" x2="231.85" y2="379.17" stroke="#2a3fe0" stroke-width="0.7"/>
<line x1="228.65" y1="386.64" x2="231.85" y2="386.64" stroke="#2a3fe0" stroke-width="0.7"/>
<rect x="238.6" y="355.65" width="8.3" height="28.75" fill="#ffa9a9" stroke="#ff2525" stroke-width="0.9"/>
<line x1="242.75" y1="355.65" x2="242.75" y2="355.47" stroke="#ff2525" stroke-width="0.7"/>
<line x1="241.15" y1="355.47" x2="244.35" y2="355.47" stroke="#ff2525" stroke-width="0.8"/>
<text x="236.5" y="398.06" font-size="4.9" font-weight="bold" text-anchor="middle" textLength="18" lengthAdjust="spacingAndGlyphs">Donor C</text>
<text x="335" y="331.94" font-size="5.4" font-weight="bold" text-anchor="middle">MKN-45 cells</text>
<line x1="287.7" y1="339.3" x2="287.7" y2="391.3" stroke="#333" stroke-width="0.85"/>
<line x1="287.7" y1="391.3" x2="382.7" y2="391.3" stroke="#333" stroke-width="0.85"/>
<line x1="287.7" y1="384" x2="382.7" y2="384" stroke="#444" stroke-width="1"/>
<line x1="285.9" y1="391.4" x2="287.7" y2="391.4" stroke="#000" stroke-width="0.6"/>
<text x="285.1" y="393.06" font-size="4.6" font-weight="bold" text-anchor="end" fill="#222" textLength="5.64" lengthAdjust="spacingAndGlyphs">-20</text>
<line x1="285.9" y1="384" x2="287.7" y2="384" stroke="#000" stroke-width="0.6"/>
<text x="285.1" y="385.66" font-size="4.6" font-weight="bold" text-anchor="end" fill="#222" textLength="2.17" lengthAdjust="spacingAndGlyphs">0</text>
<line x1="285.9" y1="376.6" x2="287.7" y2="376.6" stroke="#000" stroke-width="0.6"/>
<text x="285.1" y="378.26" font-size="4.6" font-weight="bold" text-anchor="end" fill="#222" textLength="4.34" lengthAdjust="spacingAndGlyphs">20</text>
<line x1="285.9" y1="369.2" x2="287.7" y2="369.2" stroke="#000" stroke-width="0.6"/>
<text x="285.1" y="370.86" font-size="4.6" font-weight="bold" text-anchor="end" fill="#222" textLength="4.34" lengthAdjust="spacingAndGlyphs">40</text>
<line x1="285.9" y1="361.8" x2="287.7" y2="361.8" stroke="#000" stroke-width="0.6"/>
<text x="285.1" y="363.46" font-size="4.6" font-weight="bold" text-anchor="end" fill="#222" textLength="4.34" lengthAdjust="spacingAndGlyphs">60</text>
<line x1="285.9" y1="354.4" x2="287.7" y2="354.4" stroke="#000" stroke-width="0.6"/>
<text x="285.1" y="356.06" font-size="4.6" font-weight="bold" text-anchor="end" fill="#222" textLength="4.34" lengthAdjust="spacingAndGlyphs">80</text>
<line x1="285.9" y1="347" x2="287.7" y2="347" stroke="#000" stroke-width="0.6"/>
<text x="285.1" y="348.66" font-size="4.6" font-weight="bold" text-anchor="end" fill="#222" textLength="6.51" lengthAdjust="spacingAndGlyphs">100</text>
<line x1="285.9" y1="339.6" x2="287.7" y2="339.6" stroke="#000" stroke-width="0.6"/>
<text x="285.1" y="341.26" font-size="4.6" font-weight="bold" text-anchor="end" fill="#222" textLength="6.51" lengthAdjust="spacingAndGlyphs">120</text>
<text x="275.7" y="366.56" font-size="5.3" text-anchor="middle" fill="#111" textLength="67" lengthAdjust="spacingAndGlyphs" transform="rotate(-90 275.7 364.65)">Cytotoxicity at 24 hours (%)</text>
<rect x="292.3" y="378.45" width="8.3" height="5.55" fill="#9cc3f7" stroke="#2a3fe0" stroke-width="0.9"/>
<line x1="296.45" y1="380.3" x2="296.45" y2="376.6" stroke="#2a3fe0" stroke-width="0.7"/>
<line x1="294.85" y1="376.6" x2="298.05" y2="376.6" stroke="#2a3fe0" stroke-width="0.7"/>
<line x1="294.85" y1="380.3" x2="298.05" y2="380.3" stroke="#2a3fe0" stroke-width="0.7"/>
<rect x="304.4" y="357.36" width="8.3" height="26.64" fill="#ffa9a9" stroke="#ff2525" stroke-width="0.9"/>
<line x1="308.55" y1="357.36" x2="308.55" y2="357.18" stroke="#ff2525" stroke-width="0.7"/>
<line x1="306.95" y1="357.18" x2="310.15" y2="357.18" stroke="#ff2525" stroke-width="0.8"/>
<text x="302.5" y="398.06" font-size="4.9" font-weight="bold" text-anchor="middle" textLength="18" lengthAdjust="spacingAndGlyphs">Donor A</text>
<rect x="325.3" y="378.08" width="8.3" height="5.92" fill="#9cc3f7" stroke="#2a3fe0" stroke-width="0.9"/>
<line x1="329.45" y1="378.45" x2="329.45" y2="377.71" stroke="#2a3fe0" stroke-width="0.7"/>
<line x1="327.85" y1="377.71" x2="331.05" y2="377.71" stroke="#2a3fe0" stroke-width="0.7"/>
<line x1="327.85" y1="378.45" x2="331.05" y2="378.45" stroke="#2a3fe0" stroke-width="0.7"/>
<rect x="337.4" y="364.02" width="8.3" height="19.98" fill="#ffa9a9" stroke="#ff2525" stroke-width="0.9"/>
<line x1="341.55" y1="364.02" x2="341.55" y2="363.65" stroke="#ff2525" stroke-width="0.7"/>
<line x1="339.95" y1="363.65" x2="343.15" y2="363.65" stroke="#ff2525" stroke-width="0.8"/>
<text x="335.5" y="398.06" font-size="4.9" font-weight="bold" text-anchor="middle" textLength="18" lengthAdjust="spacingAndGlyphs">Donor B</text>
<rect x="358.3" y="380.67" width="8.3" height="3.33" fill="#9cc3f7" stroke="#2a3fe0" stroke-width="0.9"/>
<line x1="362.45" y1="381.78" x2="362.45" y2="379.56" stroke="#2a3fe0" stroke-width="0.7"/>
<line x1="360.85" y1="379.56" x2="364.05" y2="379.56" stroke="#2a3fe0" stroke-width="0.7"/>
<line x1="360.85" y1="381.78" x2="364.05" y2="381.78" stroke="#2a3fe0" stroke-width="0.7"/>
<rect x="370.4" y="363.65" width="8.3" height="20.35" fill="#ffa9a9" stroke="#ff2525" stroke-width="0.9"/>
<line x1="374.55" y1="363.65" x2="374.55" y2="363.28" stroke="#ff2525" stroke-width="0.7"/>
<line x1="372.95" y1="363.28" x2="376.15" y2="363.28" stroke="#ff2525" stroke-width="0.8"/>
<text x="368.5" y="398.06" font-size="4.9" font-weight="bold" text-anchor="middle" textLength="18" lengthAdjust="spacingAndGlyphs">Donor C</text>
<text x="469.5" y="331.94" font-size="5.4" font-weight="bold" text-anchor="middle">MDA-MB-468 cells</text>
<line x1="422.3" y1="339.3" x2="422.3" y2="391.5" stroke="#333" stroke-width="0.85"/>
<line x1="422.3" y1="391.5" x2="517.3" y2="391.5" stroke="#333" stroke-width="0.85"/>
<line x1="422.3" y1="384.2" x2="517.3" y2="384.2" stroke="#444" stroke-width="1"/>
<line x1="420.5" y1="391.63" x2="422.3" y2="391.63" stroke="#000" stroke-width="0.6"/>
<text x="419.7" y="393.29" font-size="4.6" font-weight="bold" text-anchor="end" fill="#222" textLength="5.64" lengthAdjust="spacingAndGlyphs">-20</text>
<line x1="420.5" y1="384.2" x2="422.3" y2="384.2" stroke="#000" stroke-width="0.6"/>
<text x="419.7" y="385.86" font-size="4.6" font-weight="bold" text-anchor="end" fill="#222" textLength="2.17" lengthAdjust="spacingAndGlyphs">0</text>
<line x1="420.5" y1="376.77" x2="422.3" y2="376.77" stroke="#000" stroke-width="0.6"/>
<text x="419.7" y="378.42" font-size="4.6" font-weight="bold" text-anchor="end" fill="#222" textLength="4.34" lengthAdjust="spacingAndGlyphs">20</text>
<line x1="420.5" y1="369.33" x2="422.3" y2="369.33" stroke="#000" stroke-width="0.6"/>
<text x="419.7" y="370.99" font-size="4.6" font-weight="bold" text-anchor="end" fill="#222" textLength="4.34" lengthAdjust="spacingAndGlyphs">40</text>
<line x1="420.5" y1="361.9" x2="422.3" y2="361.9" stroke="#000" stroke-width="0.6"/>
<text x="419.7" y="363.56" font-size="4.6" font-weight="bold" text-anchor="end" fill="#222" textLength="4.34" lengthAdjust="spacingAndGlyphs">60</text>
<line x1="420.5" y1="354.47" x2="422.3" y2="354.47" stroke="#000" stroke-width="0.6"/>
<text x="419.7" y="356.12" font-size="4.6" font-weight="bold" text-anchor="end" fill="#222" textLength="4.34" lengthAdjust="spacingAndGlyphs">80</text>
<line x1="420.5" y1="347.03" x2="422.3" y2="347.03" stroke="#000" stroke-width="0.6"/>
<text x="419.7" y="348.69" font-size="4.6" font-weight="bold" text-anchor="end" fill="#222" textLength="6.51" lengthAdjust="spacingAndGlyphs">100</text>
<line x1="420.5" y1="339.6" x2="422.3" y2="339.6" stroke="#000" stroke-width="0.6"/>
<text x="419.7" y="341.26" font-size="4.6" font-weight="bold" text-anchor="end" fill="#222" textLength="6.51" lengthAdjust="spacingAndGlyphs">120</text>
<text x="409.5" y="366.66" font-size="5.3" text-anchor="middle" fill="#111" textLength="67" lengthAdjust="spacingAndGlyphs" transform="rotate(-90 409.5 364.75)">Cytotoxicity at 24 hours (%)</text>
<rect x="426.3" y="372.31" width="8.3" height="11.89" fill="#9cc3f7" stroke="#2a3fe0" stroke-width="0.9"/>
<line x1="430.45" y1="372.68" x2="430.45" y2="371.94" stroke="#2a3fe0" stroke-width="0.7"/>
<line x1="428.85" y1="371.94" x2="432.05" y2="371.94" stroke="#2a3fe0" stroke-width="0.7"/>
<line x1="428.85" y1="372.68" x2="432.05" y2="372.68" stroke="#2a3fe0" stroke-width="0.7"/>
<rect x="438.8" y="348.52" width="8.3" height="35.68" fill="#ffa9a9" stroke="#ff2525" stroke-width="0.9"/>
<line x1="442.95" y1="348.52" x2="442.95" y2="348.15" stroke="#ff2525" stroke-width="0.7"/>
<line x1="441.35" y1="348.15" x2="444.55" y2="348.15" stroke="#ff2525" stroke-width="0.8"/>
<text x="436.7" y="398.26" font-size="4.9" font-weight="bold" text-anchor="middle" textLength="18" lengthAdjust="spacingAndGlyphs">Donor A</text>
<rect x="459.3" y="376.77" width="8.3" height="7.43" fill="#9cc3f7" stroke="#2a3fe0" stroke-width="0.9"/>
<line x1="463.45" y1="377.14" x2="463.45" y2="376.39" stroke="#2a3fe0" stroke-width="0.7"/>
<line x1="461.85" y1="376.39" x2="465.05" y2="376.39" stroke="#2a3fe0" stroke-width="0.7"/>
<line x1="461.85" y1="377.14" x2="465.05" y2="377.14" stroke="#2a3fe0" stroke-width="0.7"/>
<rect x="471.8" y="348.52" width="8.3" height="35.68" fill="#ffa9a9" stroke="#ff2525" stroke-width="0.9"/>
<line x1="475.95" y1="348.52" x2="475.95" y2="348.15" stroke="#ff2525" stroke-width="0.7"/>
<line x1="474.35" y1="348.15" x2="477.55" y2="348.15" stroke="#ff2525" stroke-width="0.8"/>
<text x="469.7" y="398.26" font-size="4.9" font-weight="bold" text-anchor="middle" textLength="18" lengthAdjust="spacingAndGlyphs">Donor B</text>
<rect x="492.3" y="378.62" width="8.3" height="5.57" fill="#9cc3f7" stroke="#2a3fe0" stroke-width="0.9"/>
<line x1="496.45" y1="379" x2="496.45" y2="378.25" stroke="#2a3fe0" stroke-width="0.7"/>
<line x1="494.85" y1="378.25" x2="498.05" y2="378.25" stroke="#2a3fe0" stroke-width="0.7"/>
<line x1="494.85" y1="379" x2="498.05" y2="379" stroke="#2a3fe0" stroke-width="0.7"/>
<rect x="504.8" y="348.52" width="8.3" height="35.68" fill="#ffa9a9" stroke="#ff2525" stroke-width="0.9"/>
<line x1="508.95" y1="348.52" x2="508.95" y2="348.15" stroke="#ff2525" stroke-width="0.7"/>
<line x1="507.35" y1="348.15" x2="510.55" y2="348.15" stroke="#ff2525" stroke-width="0.8"/>
<text x="502.7" y="398.26" font-size="4.9" font-weight="bold" text-anchor="middle" textLength="18" lengthAdjust="spacingAndGlyphs">Donor C</text>
<circle cx="78.25" cy="341.75" r="0.5" fill="#ff6060" stroke="none" stroke-width="0.6"/>
<text x="68.75" y="423.74" font-size="5.4" font-weight="bold" text-anchor="middle">SW480 cells</text>
<line x1="21.7" y1="431" x2="21.7" y2="482.7" stroke="#333" stroke-width="0.85"/>
<line x1="21.7" y1="482.7" x2="116.7" y2="482.7" stroke="#333" stroke-width="0.85"/>
<line x1="21.7" y1="475.4" x2="116.7" y2="475.4" stroke="#888" stroke-width="1"/>
<line x1="19.9" y1="482.75" x2="21.7" y2="482.75" stroke="#000" stroke-width="0.6"/>
<text x="19.1" y="484.41" font-size="4.6" font-weight="bold" text-anchor="end" fill="#222" textLength="5.64" lengthAdjust="spacingAndGlyphs">-20</text>
<line x1="19.9" y1="475.4" x2="21.7" y2="475.4" stroke="#000" stroke-width="0.6"/>
<text x="19.1" y="477.06" font-size="4.6" font-weight="bold" text-anchor="end" fill="#222" textLength="2.17" lengthAdjust="spacingAndGlyphs">0</text>
<line x1="19.9" y1="468.05" x2="21.7" y2="468.05" stroke="#000" stroke-width="0.6"/>
<text x="19.1" y="469.71" font-size="4.6" font-weight="bold" text-anchor="end" fill="#222" textLength="4.34" lengthAdjust="spacingAndGlyphs">20</text>
<line x1="19.9" y1="460.7" x2="21.7" y2="460.7" stroke="#000" stroke-width="0.6"/>
<text x="19.1" y="462.36" font-size="4.6" font-weight="bold" text-anchor="end" fill="#222" textLength="4.34" lengthAdjust="spacingAndGlyphs">40</text>
<line x1="19.9" y1="453.35" x2="21.7" y2="453.35" stroke="#000" stroke-width="0.6"/>
<text x="19.1" y="455.01" font-size="4.6" font-weight="bold" text-anchor="end" fill="#222" textLength="4.34" lengthAdjust="spacingAndGlyphs">60</text>
<line x1="19.9" y1="446" x2="21.7" y2="446" stroke="#000" stroke-width="0.6"/>
<text x="19.1" y="447.66" font-size="4.6" font-weight="bold" text-anchor="end" fill="#222" textLength="4.34" lengthAdjust="spacingAndGlyphs">80</text>
<line x1="19.9" y1="438.65" x2="21.7" y2="438.65" stroke="#000" stroke-width="0.6"/>
<text x="19.1" y="440.31" font-size="4.6" font-weight="bold" text-anchor="end" fill="#222" textLength="6.51" lengthAdjust="spacingAndGlyphs">100</text>
<line x1="19.9" y1="431.3" x2="21.7" y2="431.3" stroke="#000" stroke-width="0.6"/>
<text x="19.1" y="432.96" font-size="4.6" font-weight="bold" text-anchor="end" fill="#222" textLength="6.51" lengthAdjust="spacingAndGlyphs">120</text>
<text x="8.2" y="458.11" font-size="5.3" text-anchor="middle" fill="#111" textLength="67" lengthAdjust="spacingAndGlyphs" transform="rotate(-90 8.2 456.2)">Cytotoxicity at 24 hours (%)</text>
<line x1="26.2" y1="475.4" x2="33.5" y2="475.4" stroke="#2a3fe0" stroke-width="1"/>
<line x1="29.85" y1="476.5" x2="29.85" y2="474.3" stroke="#2a3fe0" stroke-width="0.7"/>
<line x1="28.25" y1="474.3" x2="31.45" y2="474.3" stroke="#2a3fe0" stroke-width="0.7"/>
<line x1="28.25" y1="476.5" x2="31.45" y2="476.5" stroke="#2a3fe0" stroke-width="0.7"/>
<rect x="38.2" y="439.75" width="8.3" height="35.65" fill="#ffa9a9" stroke="#ff2525" stroke-width="0.9"/>
<line x1="42.35" y1="439.75" x2="42.35" y2="439.38" stroke="#ff2525" stroke-width="0.7"/>
<line x1="40.75" y1="439.38" x2="43.95" y2="439.38" stroke="#ff2525" stroke-width="0.8"/>
<text x="36.1" y="489.46" font-size="4.9" font-weight="bold" text-anchor="middle" textLength="18" lengthAdjust="spacingAndGlyphs">Donor A</text>
<line x1="59.2" y1="475.4" x2="66.5" y2="475.4" stroke="#2a3fe0" stroke-width="1"/>
<line x1="62.85" y1="478.34" x2="62.85" y2="472.46" stroke="#2a3fe0" stroke-width="0.7"/>
<line x1="61.25" y1="472.46" x2="64.45" y2="472.46" stroke="#2a3fe0" stroke-width="0.7"/>
<line x1="61.25" y1="478.34" x2="64.45" y2="478.34" stroke="#2a3fe0" stroke-width="0.7"/>
<rect x="71.2" y="440.12" width="8.3" height="35.28" fill="#ffa9a9" stroke="#ff2525" stroke-width="0.9"/>
<line x1="75.35" y1="440.12" x2="75.35" y2="439.75" stroke="#ff2525" stroke-width="0.7"/>
<line x1="73.75" y1="439.75" x2="76.95" y2="439.75" stroke="#ff2525" stroke-width="0.8"/>
<text x="69.1" y="489.46" font-size="4.9" font-weight="bold" text-anchor="middle" textLength="18" lengthAdjust="spacingAndGlyphs">Donor B</text>
<line x1="92.2" y1="475.4" x2="99.5" y2="475.4" stroke="#2a3fe0" stroke-width="1"/>
<line x1="95.85" y1="477.6" x2="95.85" y2="473.19" stroke="#2a3fe0" stroke-width="0.7"/>
<line x1="94.25" y1="473.19" x2="97.45" y2="473.19" stroke="#2a3fe0" stroke-width="0.7"/>
<line x1="94.25" y1="477.6" x2="97.45" y2="477.6" stroke="#2a3fe0" stroke-width="0.7"/>
<rect x="104.2" y="440.49" width="8.3" height="34.91" fill="#ffa9a9" stroke="#ff2525" stroke-width="0.9"/>
<line x1="108.35" y1="440.49" x2="108.35" y2="440.3" stroke="#ff2525" stroke-width="0.7"/>
<line x1="106.75" y1="440.3" x2="109.95" y2="440.3" stroke="#ff2525" stroke-width="0.8"/>
<text x="102.1" y="489.46" font-size="4.9" font-weight="bold" text-anchor="middle" textLength="18" lengthAdjust="spacingAndGlyphs">Donor C</text>
<text x="202.5" y="422.74" font-size="5.4" font-weight="bold" text-anchor="middle">NCI-H23 cells</text>
<line x1="155.9" y1="430.2" x2="155.9" y2="482.1" stroke="#333" stroke-width="0.85"/>
<line x1="155.9" y1="482.1" x2="250.9" y2="482.1" stroke="#333" stroke-width="0.85"/>
<line x1="155.9" y1="475.2" x2="250.9" y2="475.2" stroke="#444" stroke-width="1"/>
<line x1="154.1" y1="482.65" x2="155.9" y2="482.65" stroke="#000" stroke-width="0.6"/>
<text x="153.3" y="484.31" font-size="4.6" font-weight="bold" text-anchor="end" fill="#222" textLength="5.64" lengthAdjust="spacingAndGlyphs">-20</text>
<line x1="154.1" y1="475.2" x2="155.9" y2="475.2" stroke="#000" stroke-width="0.6"/>
<text x="153.3" y="476.86" font-size="4.6" font-weight="bold" text-anchor="end" fill="#222" textLength="2.17" lengthAdjust="spacingAndGlyphs">0</text>
<line x1="154.1" y1="467.75" x2="155.9" y2="467.75" stroke="#000" stroke-width="0.6"/>
<text x="153.3" y="469.41" font-size="4.6" font-weight="bold" text-anchor="end" fill="#222" textLength="4.34" lengthAdjust="spacingAndGlyphs">20</text>
<line x1="154.1" y1="460.3" x2="155.9" y2="460.3" stroke="#000" stroke-width="0.6"/>
<text x="153.3" y="461.96" font-size="4.6" font-weight="bold" text-anchor="end" fill="#222" textLength="4.34" lengthAdjust="spacingAndGlyphs">40</text>
<line x1="154.1" y1="452.85" x2="155.9" y2="452.85" stroke="#000" stroke-width="0.6"/>
<text x="153.3" y="454.51" font-size="4.6" font-weight="bold" text-anchor="end" fill="#222" textLength="4.34" lengthAdjust="spacingAndGlyphs">60</text>
<line x1="154.1" y1="445.4" x2="155.9" y2="445.4" stroke="#000" stroke-width="0.6"/>
<text x="153.3" y="447.06" font-size="4.6" font-weight="bold" text-anchor="end" fill="#222" textLength="4.34" lengthAdjust="spacingAndGlyphs">80</text>
<line x1="154.1" y1="437.95" x2="155.9" y2="437.95" stroke="#000" stroke-width="0.6"/>
<text x="153.3" y="439.61" font-size="4.6" font-weight="bold" text-anchor="end" fill="#222" textLength="6.51" lengthAdjust="spacingAndGlyphs">100</text>
<line x1="154.1" y1="430.5" x2="155.9" y2="430.5" stroke="#000" stroke-width="0.6"/>
<text x="153.3" y="432.16" font-size="4.6" font-weight="bold" text-anchor="end" fill="#222" textLength="6.51" lengthAdjust="spacingAndGlyphs">120</text>
<text x="143.3" y="457.41" font-size="5.3" font-weight="bold" text-anchor="middle" fill="#111" textLength="67" lengthAdjust="spacingAndGlyphs" transform="rotate(-90 143.3 455.5)">Cytotoxicity at 24 hours (%)</text>
<line x1="160.6" y1="475.2" x2="167.9" y2="475.2" stroke="#2a3fe0" stroke-width="1"/>
<line x1="164.25" y1="478.55" x2="164.25" y2="471.85" stroke="#2a3fe0" stroke-width="0.7"/>
<line x1="162.65" y1="471.85" x2="165.85" y2="471.85" stroke="#2a3fe0" stroke-width="0.7"/>
<line x1="162.65" y1="478.55" x2="165.85" y2="478.55" stroke="#2a3fe0" stroke-width="0.7"/>
<rect x="172.6" y="440.19" width="8.3" height="35.01" fill="#ffa9a9" stroke="#ff2525" stroke-width="0.9"/>
<line x1="176.75" y1="440.19" x2="176.75" y2="439.81" stroke="#ff2525" stroke-width="0.7"/>
<line x1="175.15" y1="439.81" x2="178.35" y2="439.81" stroke="#ff2525" stroke-width="0.8"/>
<text x="170.5" y="488.86" font-size="4.9" font-weight="bold" text-anchor="middle" textLength="18" lengthAdjust="spacingAndGlyphs">Donor A</text>
<line x1="193.6" y1="475.2" x2="200.9" y2="475.2" stroke="#2a3fe0" stroke-width="1"/>
<line x1="197.25" y1="476.32" x2="197.25" y2="474.08" stroke="#2a3fe0" stroke-width="0.7"/>
<line x1="195.65" y1="474.08" x2="198.85" y2="474.08" stroke="#2a3fe0" stroke-width="0.7"/>
<line x1="195.65" y1="476.32" x2="198.85" y2="476.32" stroke="#2a3fe0" stroke-width="0.7"/>
<rect x="205.6" y="439.44" width="8.3" height="35.76" fill="#ffa9a9" stroke="#ff2525" stroke-width="0.9"/>
<line x1="209.75" y1="439.44" x2="209.75" y2="439.25" stroke="#ff2525" stroke-width="0.7"/>
<line x1="208.15" y1="439.25" x2="211.35" y2="439.25" stroke="#ff2525" stroke-width="0.8"/>
<text x="203.5" y="488.86" font-size="4.9" font-weight="bold" text-anchor="middle" textLength="18" lengthAdjust="spacingAndGlyphs">Donor B</text>
<line x1="226.6" y1="474.83" x2="233.9" y2="474.83" stroke="#2a3fe0" stroke-width="1"/>
<line x1="230.25" y1="475.57" x2="230.25" y2="474.08" stroke="#2a3fe0" stroke-width="0.7"/>
<line x1="228.65" y1="474.08" x2="231.85" y2="474.08" stroke="#2a3fe0" stroke-width="0.7"/>
<line x1="228.65" y1="475.57" x2="231.85" y2="475.57" stroke="#2a3fe0" stroke-width="0.7"/>
<rect x="238.6" y="442.05" width="8.3" height="33.15" fill="#ffa9a9" stroke="#ff2525" stroke-width="0.9"/>
<line x1="242.75" y1="442.05" x2="242.75" y2="441.86" stroke="#ff2525" stroke-width="0.7"/>
<line x1="241.15" y1="441.86" x2="244.35" y2="441.86" stroke="#ff2525" stroke-width="0.8"/>
<text x="236.5" y="488.86" font-size="4.9" font-weight="bold" text-anchor="middle" textLength="18" lengthAdjust="spacingAndGlyphs">Donor C</text>
<rect x="284" y="443.4" width="8.2" height="3.2" fill="#9cc3f7" stroke="#1f2fe0" stroke-width="1.2"/>
<rect x="284" y="453.4" width="8.2" height="3.2" fill="#ffa9a9" stroke="#ff2525" stroke-width="1.2"/>
<text x="297" y="447.3" font-size="6.4" textLength="29" lengthAdjust="spacingAndGlyphs">UT EBVST</text>
<text x="297" y="457.3" font-size="6.4" textLength="51.5" lengthAdjust="spacingAndGlyphs">B7H3.CAR EBVST</text>
<text x="1.7" y="510.87" font-size="12.6" font-weight="bold" textLength="5.6" lengthAdjust="spacingAndGlyphs">F</text>
<text x="78.75" y="520.1" font-size="8.6" font-weight="bold" text-anchor="middle" textLength="33.6" lengthAdjust="spacingAndGlyphs">Donor A</text>
<line x1="21.5" y1="525.9" x2="21.5" y2="592.2" stroke="#000" stroke-width="0.8"/>
<line x1="21.5" y1="592.2" x2="131" y2="592.2" stroke="#000" stroke-width="0.8"/>
<line x1="18.5" y1="592.2" x2="21.5" y2="592.2" stroke="#000" stroke-width="0.7"/>
<text x="18.1" y="594.29" font-size="5.8" font-weight="bold" text-anchor="end">40</text>
<line x1="18.5" y1="575.7" x2="21.5" y2="575.7" stroke="#000" stroke-width="0.7"/>
<text x="18.1" y="577.79" font-size="5.8" font-weight="bold" text-anchor="end">60</text>
<line x1="18.5" y1="559.2" x2="21.5" y2="559.2" stroke="#000" stroke-width="0.7"/>
<text x="18.1" y="561.29" font-size="5.8" font-weight="bold" text-anchor="end">80</text>
<line x1="18.5" y1="542.7" x2="21.5" y2="542.7" stroke="#000" stroke-width="0.7"/>
<text x="18.1" y="544.79" font-size="5.8" font-weight="bold" text-anchor="end">100</text>
<line x1="18.5" y1="526.2" x2="21.5" y2="526.2" stroke="#000" stroke-width="0.7"/>
<text x="18.1" y="528.29" font-size="5.8" font-weight="bold" text-anchor="end">120</text>
<line x1="21.5" y1="592.2" x2="21.5" y2="594.7" stroke="#000" stroke-width="0.7"/>
<text x="21.5" y="601.49" font-size="5.8" font-weight="bold" text-anchor="middle">0.1</text>
<line x1="48.8" y1="592.2" x2="48.8" y2="594.7" stroke="#000" stroke-width="0.7"/>
<text x="48.8" y="601.49" font-size="5.8" font-weight="bold" text-anchor="middle">1</text>
<line x1="76.1" y1="592.2" x2="76.1" y2="594.7" stroke="#000" stroke-width="0.7"/>
<text x="76.1" y="601.49" font-size="5.8" font-weight="bold" text-anchor="middle">10</text>
<line x1="103.4" y1="592.2" x2="103.4" y2="594.7" stroke="#000" stroke-width="0.7"/>
<text x="103.4" y="601.49" font-size="5.8" font-weight="bold" text-anchor="middle">100</text>
<line x1="130.7" y1="592.2" x2="130.7" y2="594.7" stroke="#000" stroke-width="0.7"/>
<text x="130.7" y="601.49" font-size="5.8" font-weight="bold" text-anchor="middle">1,000</text>
<text x="81.8" y="608.6" font-size="6.1" font-weight="bold" text-anchor="middle" textLength="73.6" lengthAdjust="spacingAndGlyphs">[soluble B7H3]/(nmol/L)</text>
<text x="3" y="560.35" font-size="6.8" text-anchor="middle" textLength="57.3" lengthAdjust="spacingAndGlyphs" transform="rotate(-90 3 557.9)">CD25+ (% of CD3+)</text>
<polygon points="37.66,573.56 54.09,573.06 70.53,572.73 86.96,572.4 103.4,571.99 119.84,571.33 119.84,569.76 103.4,571.08 86.96,571.74 70.53,572.24 54.09,573.23 37.66,574.22" fill="#6a6aff" fill-opacity="0.45" stroke="none"/>
<polyline points="37.66,580.98 54.09,580.98 70.53,579.83 86.96,580.4 103.4,580.4 119.84,583.12" stroke="#000000" stroke-width="0.8" fill="none"/>
<polyline points="37.66,574.22 54.09,573.23 70.53,572.24 86.96,571.74 103.4,571.08 119.84,569.76" stroke="#8a10b0" stroke-width="0.8" fill="none"/>
<polyline points="37.66,573.56 54.09,573.06 70.53,572.73 86.96,572.4 103.4,571.99 119.84,571.33" stroke="#1010e0" stroke-width="0.8" fill="none"/>
<polyline points="37.66,573.88 38.2,573.88 38.75,573.88 39.29,573.88 39.84,573.88 40.39,573.88 40.93,573.88 41.48,573.88 42.02,573.88 42.57,573.88 43.12,573.88 43.66,573.88 44.21,573.88 44.75,573.88 45.3,573.88 45.85,573.88 46.39,573.88 46.94,573.88 47.48,573.88 48.03,573.88 48.58,573.88 49.12,573.88 49.67,573.88 50.21,573.88 50.76,573.88 51.31,573.88 51.85,573.88 52.4,573.88 52.94,573.88 53.49,573.88 54.04,573.88 54.58,573.88 55.13,573.88 55.67,573.88 56.22,573.88 56.77,573.88 57.31,573.88 57.86,573.88 58.4,573.88 58.95,573.88 59.5,573.88 60.04,573.88 60.59,573.88 61.13,573.88 61.68,573.88 62.23,573.88 62.77,573.88 63.32,573.88 63.86,573.88 64.41,573.88 64.96,573.88 65.5,573.88 66.05,573.88 66.59,573.88 67.14,573.88 67.69,573.88 68.23,573.87 68.78,573.87 69.32,573.87 69.87,573.87 70.42,573.86 70.96,573.85 71.51,573.85 72.05,573.84 72.6,573.83 73.15,573.82 73.69,573.8 74.24,573.78 74.78,573.76 75.33,573.73 75.88,573.69 76.42,573.65 76.97,573.59 77.51,573.53 78.06,573.44 78.61,573.35 79.15,573.22 79.7,573.08 80.24,572.89 80.79,572.68 81.34,572.41 81.88,572.09 82.43,571.71 82.97,571.25 83.52,570.71 84.07,570.06 84.61,569.32 85.16,568.45 85.7,567.46 86.25,566.34 86.8,565.1 87.34,563.75 87.89,562.3 88.43,560.77 88.98,559.19 89.53,557.61 90.07,556.04 90.62,554.52 91.16,553.08 91.71,551.75 92.26,550.53 92.8,549.44 93.35,548.47 93.89,547.62 94.44,546.9 94.99,546.27 95.53,545.74 96.08,545.3 96.62,544.93 97.17,544.62 97.72,544.36 98.26,544.15 98.81,543.98 99.35,543.83 99.9,543.72 100.45,543.62 100.99,543.54 101.54,543.48 102.08,543.42 102.63,543.38 103.18,543.35 103.72,543.32 104.27,543.3 104.81,543.28 105.36,543.26 105.91,543.25 106.45,543.24 107,543.23 107.54,543.22 108.09,543.22 108.64,543.21 109.18,543.21 109.73,543.21 110.27,543.21 110.82,543.2 111.37,543.2 111.91,543.2 112.46,543.2 113,543.2 113.55,543.2 114.1,543.2 114.64,543.2 115.19,543.2 115.73,543.2 116.28,543.2 116.83,543.2 117.37,543.2 117.92,543.2 118.46,543.2 119.01,543.2 119.56,543.2" stroke="#18c818" stroke-width="0.8" fill="none"/>
<polyline points="37.66,574.19 38.2,574.16 38.75,574.14 39.29,574.1 39.84,574.07 40.39,574.03 40.93,573.99 41.48,573.95 42.02,573.9 42.57,573.85 43.12,573.79 43.66,573.72 44.21,573.65 44.75,573.58 45.3,573.5 45.85,573.41 46.39,573.31 46.94,573.2 47.48,573.09 48.03,572.96 48.58,572.82 49.12,572.67 49.67,572.51 50.21,572.33 50.76,572.14 51.31,571.94 51.85,571.72 52.4,571.48 52.94,571.22 53.49,570.94 54.04,570.64 54.58,570.32 55.13,569.98 55.67,569.62 56.22,569.23 56.77,568.81 57.31,568.37 57.86,567.91 58.4,567.42 58.95,566.9 59.5,566.36 60.04,565.8 60.59,565.21 61.13,564.6 61.68,563.97 62.23,563.32 62.77,562.65 63.32,561.96 63.86,561.27 64.41,560.56 64.96,559.84 65.5,559.13 66.05,558.41 66.59,557.69 67.14,556.97 67.69,556.27 68.23,555.57 68.78,554.89 69.32,554.23 69.87,553.58 70.42,552.95 70.96,552.34 71.51,551.76 72.05,551.2 72.6,550.66 73.15,550.15 73.69,549.66 74.24,549.2 74.78,548.77 75.33,548.36 75.88,547.98 76.42,547.61 76.97,547.28 77.51,546.96 78.06,546.67 78.61,546.39 79.15,546.14 79.7,545.9 80.24,545.68 80.79,545.48 81.34,545.29 81.88,545.12 82.43,544.96 82.97,544.81 83.52,544.68 84.07,544.55 84.61,544.44 85.16,544.33 85.7,544.23 86.25,544.15 86.8,544.06 87.34,543.99 87.89,543.92 88.43,543.86 88.98,543.8 89.53,543.75 90.07,543.7 90.62,543.66 91.16,543.62 91.71,543.58 92.26,543.55 92.8,543.52 93.35,543.49 93.89,543.46 94.44,543.44 94.99,543.42 95.53,543.4 96.08,543.38 96.62,543.36 97.17,543.35 97.72,543.34 98.26,543.32 98.81,543.31 99.35,543.3 99.9,543.29 100.45,543.28 100.99,543.28 101.54,543.27 102.08,543.26 102.63,543.26 103.18,543.25 103.72,543.25 104.27,543.24 104.81,543.24 105.36,543.23 105.91,543.23 106.45,543.23 107,543.22 107.54,543.22 108.09,543.22 108.64,543.22 109.18,543.22 109.73,543.21 110.27,543.21 110.82,543.21 111.37,543.21 111.91,543.21 112.46,543.21 113,543.21 113.55,543.2 114.1,543.2 114.64,543.2 115.19,543.2 115.73,543.2 116.28,543.2 116.83,543.2 117.37,543.2 117.92,543.2 118.46,543.2 119.01,543.2 119.56,543.2" stroke="#ff1a1a" stroke-width="0.8" fill="none"/>
<circle cx="37.66" cy="580.98" r="0.9" fill="#000000" stroke="none" stroke-width="0.6"/>
<circle cx="54.09" cy="580.98" r="0.9" fill="#000000" stroke="none" stroke-width="0.6"/>
<circle cx="70.53" cy="579.83" r="0.9" fill="#000000" stroke="none" stroke-width="0.6"/>
<circle cx="86.96" cy="580.4" r="0.9" fill="#000000" stroke="none" stroke-width="0.6"/>
<circle cx="103.4" cy="580.4" r="0.9" fill="#000000" stroke="none" stroke-width="0.6"/>
<circle cx="119.84" cy="583.12" r="0.9" fill="#000000" stroke="none" stroke-width="0.6"/>
<path d="M37.66,572.13 L38.96,574.6 L36.36,574.6 Z" stroke="none" stroke-width="0.8" fill="#1010e0"/>
<path d="M54.09,571.63 L55.39,574.1 L52.79,574.1 Z" stroke="none" stroke-width="0.8" fill="#1010e0"/>
<path d="M70.53,571.3 L71.83,573.77 L69.23,573.77 Z" stroke="none" stroke-width="0.8" fill="#1010e0"/>
<path d="M86.96,570.97 L88.26,573.44 L85.66,573.44 Z" stroke="none" stroke-width="0.8" fill="#1010e0"/>
<path d="M103.4,570.56 L104.7,573.03 L102.1,573.03 Z" stroke="none" stroke-width="0.8" fill="#1010e0"/>
<path d="M119.84,569.9 L121.14,572.37 L118.54,572.37 Z" stroke="none" stroke-width="0.8" fill="#1010e0"/>
<circle cx="37.66" cy="574.22" r="1" fill="#8a10b0" stroke="none" stroke-width="0.6"/>
<circle cx="54.09" cy="573.23" r="1" fill="#8a10b0" stroke="none" stroke-width="0.6"/>
<circle cx="70.53" cy="572.24" r="1" fill="#8a10b0" stroke="none" stroke-width="0.6"/>
<circle cx="86.96" cy="571.74" r="1" fill="#8a10b0" stroke="none" stroke-width="0.6"/>
<circle cx="103.4" cy="571.08" r="1" fill="#8a10b0" stroke="none" stroke-width="0.6"/>
<circle cx="119.84" cy="569.76" r="1" fill="#8a10b0" stroke="none" stroke-width="0.6"/>
<circle cx="37.66" cy="575.37" r="1.35" fill="#18c818" stroke="none" stroke-width="0.6"/>
<circle cx="54.09" cy="573.47" r="1.35" fill="#18c818" stroke="none" stroke-width="0.6"/>
<circle cx="70.53" cy="573.47" r="1.35" fill="#18c818" stroke="none" stroke-width="0.6"/>
<circle cx="86.96" cy="564.73" r="1.35" fill="#18c818" stroke="none" stroke-width="0.6"/>
<circle cx="103.4" cy="543.28" r="1.35" fill="#18c818" stroke="none" stroke-width="0.6"/>
<circle cx="119.84" cy="543.28" r="1.35" fill="#18c818" stroke="none" stroke-width="0.6"/>
<circle cx="37.66" cy="574.13" r="1.35" fill="#ff1a1a" stroke="none" stroke-width="0.6"/>
<circle cx="54.09" cy="570.83" r="1.35" fill="#ff1a1a" stroke="none" stroke-width="0.6"/>
<circle cx="70.53" cy="550.95" r="1.35" fill="#ff1a1a" stroke="none" stroke-width="0.6"/>
<circle cx="86.96" cy="543.28" r="1.35" fill="#ff1a1a" stroke="none" stroke-width="0.6"/>
<circle cx="103.4" cy="543.28" r="1.35" fill="#ff1a1a" stroke="none" stroke-width="0.6"/>
<circle cx="119.84" cy="543.28" r="1.35" fill="#ff1a1a" stroke="none" stroke-width="0.6"/>
<text x="219.85" y="520.1" font-size="8.6" font-weight="bold" text-anchor="middle" textLength="33.6" lengthAdjust="spacingAndGlyphs">Donor B</text>
<line x1="161" y1="525.3" x2="161" y2="592.4" stroke="#000" stroke-width="0.8"/>
<line x1="161" y1="592.4" x2="271.7" y2="592.4" stroke="#000" stroke-width="0.8"/>
<line x1="158" y1="592.4" x2="161" y2="592.4" stroke="#000" stroke-width="0.7"/>
<text x="157.6" y="594.49" font-size="5.8" font-weight="bold" text-anchor="end">40</text>
<line x1="158" y1="575.7" x2="161" y2="575.7" stroke="#000" stroke-width="0.7"/>
<text x="157.6" y="577.79" font-size="5.8" font-weight="bold" text-anchor="end">60</text>
<line x1="158" y1="559" x2="161" y2="559" stroke="#000" stroke-width="0.7"/>
<text x="157.6" y="561.09" font-size="5.8" font-weight="bold" text-anchor="end">80</text>
<line x1="158" y1="542.3" x2="161" y2="542.3" stroke="#000" stroke-width="0.7"/>
<text x="157.6" y="544.39" font-size="5.8" font-weight="bold" text-anchor="end">100</text>
<line x1="158" y1="525.6" x2="161" y2="525.6" stroke="#000" stroke-width="0.7"/>
<text x="157.6" y="527.69" font-size="5.8" font-weight="bold" text-anchor="end">120</text>
<line x1="161" y1="592.4" x2="161" y2="594.9" stroke="#000" stroke-width="0.7"/>
<text x="161" y="601.49" font-size="5.8" font-weight="bold" text-anchor="middle">0.1</text>
<line x1="188.6" y1="592.4" x2="188.6" y2="594.9" stroke="#000" stroke-width="0.7"/>
<text x="188.6" y="601.49" font-size="5.8" font-weight="bold" text-anchor="middle">1</text>
<line x1="216.2" y1="592.4" x2="216.2" y2="594.9" stroke="#000" stroke-width="0.7"/>
<text x="216.2" y="601.49" font-size="5.8" font-weight="bold" text-anchor="middle">10</text>
<line x1="243.8" y1="592.4" x2="243.8" y2="594.9" stroke="#000" stroke-width="0.7"/>
<text x="243.8" y="601.49" font-size="5.8" font-weight="bold" text-anchor="middle">100</text>
<line x1="271.4" y1="592.4" x2="271.4" y2="594.9" stroke="#000" stroke-width="0.7"/>
<text x="271.4" y="601.49" font-size="5.8" font-weight="bold" text-anchor="middle">1,000</text>
<text x="221.5" y="608.6" font-size="6.1" font-weight="bold" text-anchor="middle" textLength="73.6" lengthAdjust="spacingAndGlyphs">[soluble B7H3]/(nmol/L)</text>
<text x="145.6" y="560.35" font-size="6.8" text-anchor="middle" textLength="57.3" lengthAdjust="spacingAndGlyphs" transform="rotate(-90 145.6 557.9)">CD25+ (% of CD3+)</text>
<polygon points="177.33,580.29 193.95,578.04 210.57,578.04 227.18,578.04 243.8,578.04 260.42,578.04 260.42,575.53 243.8,575.87 227.18,576.03 210.57,576.12 193.95,576.28 177.33,576.53" fill="#6a6aff" fill-opacity="0.45" stroke="none"/>
<polyline points="177.33,575.2 193.95,575.03 210.57,575.03 227.18,575.03 243.8,575.2 260.42,577.37" stroke="#000000" stroke-width="0.8" fill="none"/>
<polyline points="177.33,576.53 193.95,576.28 210.57,576.12 227.18,576.03 243.8,575.87 260.42,575.53" stroke="#8a10b0" stroke-width="0.8" fill="none"/>
<polyline points="177.33,580.29 193.95,578.04 210.57,578.04 227.18,578.04 243.8,578.04 260.42,578.04" stroke="#1010e0" stroke-width="0.8" fill="none"/>
<polyline points="177.33,575.28 177.88,575.28 178.44,575.28 178.99,575.28 179.54,575.28 180.09,575.28 180.64,575.28 181.2,575.28 181.75,575.28 182.3,575.28 182.85,575.28 183.4,575.28 183.96,575.28 184.51,575.28 185.06,575.28 185.61,575.28 186.16,575.28 186.72,575.28 187.27,575.28 187.82,575.28 188.37,575.28 188.92,575.28 189.48,575.28 190.03,575.28 190.58,575.28 191.13,575.28 191.68,575.28 192.24,575.28 192.79,575.28 193.34,575.28 193.89,575.28 194.44,575.28 195,575.28 195.55,575.28 196.1,575.28 196.65,575.28 197.2,575.28 197.76,575.28 198.31,575.28 198.86,575.28 199.41,575.28 199.96,575.28 200.52,575.28 201.07,575.28 201.62,575.28 202.17,575.28 202.72,575.28 203.28,575.28 203.83,575.28 204.38,575.28 204.93,575.28 205.48,575.28 206.04,575.28 206.59,575.28 207.14,575.28 207.69,575.28 208.24,575.28 208.8,575.28 209.35,575.28 209.9,575.28 210.45,575.28 211,575.28 211.56,575.27 212.11,575.27 212.66,575.27 213.21,575.27 213.76,575.26 214.32,575.26 214.87,575.25 215.42,575.25 215.97,575.24 216.52,575.23 217.08,575.22 217.63,575.2 218.18,575.18 218.73,575.16 219.28,575.13 219.84,575.1 220.39,575.06 220.94,575 221.49,574.94 222.04,574.86 222.6,574.77 223.15,574.65 223.7,574.51 224.25,574.33 224.8,574.12 225.36,573.87 225.91,573.56 226.46,573.19 227.01,572.75 227.56,572.22 228.12,571.59 228.67,570.86 229.22,570 229.77,569.02 230.32,567.91 230.88,566.66 231.43,565.29 231.98,563.8 232.53,562.22 233.08,560.57 233.64,558.89 234.19,557.22 234.74,555.58 235.29,554.02 235.84,552.55 236.4,551.19 236.95,549.97 237.5,548.88 238.05,547.92 238.6,547.09 239.16,546.37 239.71,545.77 240.26,545.25 240.81,544.82 241.36,544.46 241.92,544.17 242.47,543.92 243.02,543.72 243.57,543.55 244.12,543.41 244.68,543.3 245.23,543.21 245.78,543.13 246.33,543.07 246.88,543.02 247.44,542.98 247.99,542.95 248.54,542.92 249.09,542.9 249.64,542.88 250.2,542.86 250.75,542.85 251.3,542.84 251.85,542.84 252.4,542.83 252.96,542.82 253.51,542.82 254.06,542.82 254.61,542.81 255.16,542.81 255.72,542.81 256.27,542.81 256.82,542.81 257.37,542.81 257.92,542.8 258.48,542.8 259.03,542.8 259.58,542.8 260.13,542.8" stroke="#18c818" stroke-width="0.8" fill="none"/>
<polyline points="177.33,577.93 177.88,577.93 178.44,577.93 178.99,577.92 179.54,577.92 180.09,577.92 180.64,577.91 181.2,577.91 181.75,577.9 182.3,577.89 182.85,577.88 183.4,577.88 183.96,577.87 184.51,577.85 185.06,577.84 185.61,577.83 186.16,577.81 186.72,577.79 187.27,577.77 187.82,577.75 188.37,577.72 188.92,577.69 189.48,577.66 190.03,577.62 190.58,577.58 191.13,577.54 191.68,577.48 192.24,577.42 192.79,577.36 193.34,577.28 193.89,577.2 194.44,577.11 195,577 195.55,576.88 196.1,576.75 196.65,576.6 197.2,576.44 197.76,576.26 198.31,576.05 198.86,575.82 199.41,575.57 199.96,575.29 200.52,574.98 201.07,574.64 201.62,574.26 202.17,573.85 202.72,573.39 203.28,572.89 203.83,572.35 204.38,571.76 204.93,571.13 205.48,570.45 206.04,569.72 206.59,568.94 207.14,568.11 207.69,567.24 208.24,566.32 208.8,565.37 209.35,564.39 209.9,563.38 210.45,562.34 211,561.3 211.56,560.24 212.11,559.19 212.66,558.15 213.21,557.12 213.76,556.11 214.32,555.13 214.87,554.18 215.42,553.28 215.97,552.41 216.52,551.6 217.08,550.82 217.63,550.1 218.18,549.43 218.73,548.8 219.28,548.22 219.84,547.69 220.39,547.2 220.94,546.75 221.49,546.34 222.04,545.97 222.6,545.63 223.15,545.33 223.7,545.05 224.25,544.81 224.8,544.58 225.36,544.38 225.91,544.2 226.46,544.04 227.01,543.9 227.56,543.77 228.12,543.65 228.67,543.55 229.22,543.46 229.77,543.38 230.32,543.3 230.88,543.24 231.43,543.18 231.98,543.13 232.53,543.08 233.08,543.04 233.64,543.01 234.19,542.97 234.74,542.94 235.29,542.92 235.84,542.9 236.4,542.88 236.95,542.86 237.5,542.84 238.05,542.83 238.6,542.82 239.16,542.8 239.71,542.8 240.26,542.79 240.81,542.78 241.36,542.77 241.92,542.77 242.47,542.76 243.02,542.76 243.57,542.75 244.12,542.75 244.68,542.74 245.23,542.74 245.78,542.74 246.33,542.74 246.88,542.73 247.44,542.73 247.99,542.73 248.54,542.73 249.09,542.73 249.64,542.73 250.2,542.73 250.75,542.72 251.3,542.72 251.85,542.72 252.4,542.72 252.96,542.72 253.51,542.72 254.06,542.72 254.61,542.72 255.16,542.72 255.72,542.72 256.27,542.72 256.82,542.72 257.37,542.72 257.92,542.72 258.48,542.72 259.03,542.72 259.58,542.72 260.13,542.72" stroke="#ff1a1a" stroke-width="0.8" fill="none"/>
<circle cx="177.33" cy="575.2" r="0.9" fill="#000000" stroke="none" stroke-width="0.6"/>
<circle cx="193.95" cy="575.03" r="0.9" fill="#000000" stroke="none" stroke-width="0.6"/>
<circle cx="210.57" cy="575.03" r="0.9" fill="#000000" stroke="none" stroke-width="0.6"/>
<circle cx="227.18" cy="575.03" r="0.9" fill="#000000" stroke="none" stroke-width="0.6"/>
<circle cx="243.8" cy="575.2" r="0.9" fill="#000000" stroke="none" stroke-width="0.6"/>
<circle cx="260.42" cy="577.37" r="0.9" fill="#000000" stroke="none" stroke-width="0.6"/>
<path d="M177.33,578.86 L178.63,581.33 L176.03,581.33 Z" stroke="none" stroke-width="0.8" fill="#1010e0"/>
<path d="M193.95,576.61 L195.25,579.08 L192.65,579.08 Z" stroke="none" stroke-width="0.8" fill="#1010e0"/>
<path d="M210.57,576.61 L211.87,579.08 L209.27,579.08 Z" stroke="none" stroke-width="0.8" fill="#1010e0"/>
<path d="M227.18,576.61 L228.48,579.08 L225.88,579.08 Z" stroke="none" stroke-width="0.8" fill="#1010e0"/>
<path d="M243.8,576.61 L245.1,579.08 L242.5,579.08 Z" stroke="none" stroke-width="0.8" fill="#1010e0"/>
<path d="M260.42,576.61 L261.72,579.08 L259.12,579.08 Z" stroke="none" stroke-width="0.8" fill="#1010e0"/>
<circle cx="177.33" cy="576.53" r="1" fill="#8a10b0" stroke="none" stroke-width="0.6"/>
<circle cx="193.95" cy="576.28" r="1" fill="#8a10b0" stroke="none" stroke-width="0.6"/>
<circle cx="210.57" cy="576.12" r="1" fill="#8a10b0" stroke="none" stroke-width="0.6"/>
<circle cx="227.18" cy="576.03" r="1" fill="#8a10b0" stroke="none" stroke-width="0.6"/>
<circle cx="243.8" cy="575.87" r="1" fill="#8a10b0" stroke="none" stroke-width="0.6"/>
<circle cx="260.42" cy="575.53" r="1" fill="#8a10b0" stroke="none" stroke-width="0.6"/>
<circle cx="177.33" cy="577.37" r="1.35" fill="#18c818" stroke="none" stroke-width="0.6"/>
<circle cx="193.95" cy="575.03" r="1.35" fill="#18c818" stroke="none" stroke-width="0.6"/>
<circle cx="210.57" cy="575.03" r="1.35" fill="#18c818" stroke="none" stroke-width="0.6"/>
<circle cx="227.18" cy="574.03" r="1.35" fill="#18c818" stroke="none" stroke-width="0.6"/>
<circle cx="243.8" cy="542.88" r="1.35" fill="#18c818" stroke="none" stroke-width="0.6"/>
<circle cx="260.42" cy="542.88" r="1.35" fill="#18c818" stroke="none" stroke-width="0.6"/>
<circle cx="177.33" cy="578.54" r="1.35" fill="#ff1a1a" stroke="none" stroke-width="0.6"/>
<circle cx="193.95" cy="576.87" r="1.35" fill="#ff1a1a" stroke="none" stroke-width="0.6"/>
<circle cx="210.57" cy="564.18" r="1.35" fill="#ff1a1a" stroke="none" stroke-width="0.6"/>
<circle cx="227.18" cy="542.72" r="1.35" fill="#ff1a1a" stroke="none" stroke-width="0.6"/>
<circle cx="243.8" cy="542.72" r="1.35" fill="#ff1a1a" stroke="none" stroke-width="0.6"/>
<circle cx="260.42" cy="542.72" r="1.35" fill="#ff1a1a" stroke="none" stroke-width="0.6"/>
<text x="358.45" y="520.1" font-size="8.6" font-weight="bold" text-anchor="middle" textLength="33.6" lengthAdjust="spacingAndGlyphs">Donor C</text>
<line x1="305.3" y1="525.3" x2="305.3" y2="592.4" stroke="#000" stroke-width="0.8"/>
<line x1="305.3" y1="592.4" x2="414.8" y2="592.4" stroke="#000" stroke-width="0.8"/>
<line x1="302.3" y1="592.4" x2="305.3" y2="592.4" stroke="#000" stroke-width="0.7"/>
<text x="301.9" y="594.49" font-size="5.8" font-weight="bold" text-anchor="end">40</text>
<line x1="302.3" y1="575.7" x2="305.3" y2="575.7" stroke="#000" stroke-width="0.7"/>
<text x="301.9" y="577.79" font-size="5.8" font-weight="bold" text-anchor="end">60</text>
<line x1="302.3" y1="559" x2="305.3" y2="559" stroke="#000" stroke-width="0.7"/>
<text x="301.9" y="561.09" font-size="5.8" font-weight="bold" text-anchor="end">80</text>
<line x1="302.3" y1="542.3" x2="305.3" y2="542.3" stroke="#000" stroke-width="0.7"/>
<text x="301.9" y="544.39" font-size="5.8" font-weight="bold" text-anchor="end">100</text>
<line x1="302.3" y1="525.6" x2="305.3" y2="525.6" stroke="#000" stroke-width="0.7"/>
<text x="301.9" y="527.69" font-size="5.8" font-weight="bold" text-anchor="end">120</text>
<line x1="305.3" y1="592.4" x2="305.3" y2="594.9" stroke="#000" stroke-width="0.7"/>
<text x="305.3" y="601.49" font-size="5.8" font-weight="bold" text-anchor="middle">0.1</text>
<line x1="332.6" y1="592.4" x2="332.6" y2="594.9" stroke="#000" stroke-width="0.7"/>
<text x="332.6" y="601.49" font-size="5.8" font-weight="bold" text-anchor="middle">1</text>
<line x1="359.9" y1="592.4" x2="359.9" y2="594.9" stroke="#000" stroke-width="0.7"/>
<text x="359.9" y="601.49" font-size="5.8" font-weight="bold" text-anchor="middle">10</text>
<line x1="387.2" y1="592.4" x2="387.2" y2="594.9" stroke="#000" stroke-width="0.7"/>
<text x="387.2" y="601.49" font-size="5.8" font-weight="bold" text-anchor="middle">100</text>
<line x1="414.5" y1="592.4" x2="414.5" y2="594.9" stroke="#000" stroke-width="0.7"/>
<text x="414.5" y="601.49" font-size="5.8" font-weight="bold" text-anchor="middle">1,000</text>
<text x="365.8" y="608.6" font-size="6.1" font-weight="bold" text-anchor="middle" textLength="73.6" lengthAdjust="spacingAndGlyphs">[soluble B7H3]/(nmol/L)</text>
<text x="286.2" y="560.35" font-size="6.8" text-anchor="middle" textLength="57.3" lengthAdjust="spacingAndGlyphs" transform="rotate(-90 286.2 557.9)">CD25+ (% of CD3+)</text>
<polygon points="321.46,560.25 337.89,560.25 354.33,560.17 370.76,560 387.2,559.84 403.64,559.33 403.64,559.17 387.2,559.5 370.76,559.67 354.33,559.67 337.89,559.67 321.46,559.58" fill="#3030a0" fill-opacity="0.45" stroke="none"/>
<polyline points="321.46,560 337.89,560 354.33,560 370.76,560 387.2,562.34" stroke="#000000" stroke-width="0.8" fill="none"/>
<polyline points="321.46,559.58 337.89,559.67 354.33,559.67 370.76,559.67 387.2,559.5 403.64,559.17" stroke="#8a10b0" stroke-width="0.8" fill="none"/>
<polyline points="321.46,560.25 337.89,560.25 354.33,560.17 370.76,560 387.2,559.84 403.64,559.33" stroke="#1010e0" stroke-width="0.8" fill="none"/>
<polyline points="321.46,559.84 370.76,559.84 376.2,559.84 376.2,543.13 387.2,543.13 403.64,543.13" stroke="#18c818" stroke-width="0.8" fill="none"/>
<polyline points="321.46,563.22 322,563.19 322.55,563.16 323.09,563.12 323.64,563.08 324.19,563.04 324.73,562.99 325.28,562.94 325.82,562.89 326.37,562.83 326.92,562.77 327.46,562.7 328.01,562.62 328.55,562.55 329.1,562.46 329.65,562.37 330.19,562.27 330.74,562.16 331.28,562.05 331.83,561.93 332.38,561.8 332.92,561.66 333.47,561.51 334.01,561.35 334.56,561.18 335.11,560.99 335.65,560.8 336.2,560.6 336.74,560.38 337.29,560.15 337.84,559.91 338.38,559.65 338.93,559.38 339.47,559.1 340.02,558.8 340.57,558.5 341.11,558.18 341.66,557.84 342.2,557.5 342.75,557.14 343.3,556.77 343.84,556.4 344.39,556.01 344.93,555.62 345.48,555.22 346.03,554.81 346.57,554.4 347.12,553.99 347.66,553.58 348.21,553.16 348.76,552.75 349.3,552.34 349.85,551.94 350.39,551.54 350.94,551.15 351.49,550.76 352.03,550.39 352.58,550.02 353.12,549.67 353.67,549.33 354.22,549 354.76,548.68 355.31,548.37 355.85,548.08 356.4,547.8 356.95,547.53 357.49,547.28 358.04,547.04 358.58,546.81 359.13,546.6 359.68,546.39 360.22,546.2 360.77,546.02 361.31,545.85 361.86,545.69 362.41,545.55 362.95,545.41 363.5,545.28 364.04,545.16 364.59,545.05 365.14,544.94 365.68,544.84 366.23,544.75 366.77,544.67 367.32,544.59 367.87,544.52 368.41,544.45 368.96,544.39 369.5,544.33 370.05,544.28 370.6,544.23 371.14,544.18 371.69,544.14 372.23,544.1 372.78,544.06 373.33,544.03 373.87,544 374.42,543.97 374.96,543.95 375.51,543.92 376.06,543.9 376.6,543.88 377.15,543.86 377.69,543.84 378.24,543.83 378.79,543.81 379.33,543.8 379.88,543.78 380.42,543.77 380.97,543.76 381.52,543.75 382.06,543.74 382.61,543.73 383.15,543.73 383.7,543.72 384.25,543.71 384.79,543.71 385.34,543.7 385.88,543.7 386.43,543.69 386.98,543.69" stroke="#ff1a1a" stroke-width="0.8" fill="none"/>
<circle cx="321.46" cy="560" r="0.9" fill="#000000" stroke="none" stroke-width="0.6"/>
<circle cx="337.89" cy="560" r="0.9" fill="#000000" stroke="none" stroke-width="0.6"/>
<circle cx="354.33" cy="560" r="0.9" fill="#000000" stroke="none" stroke-width="0.6"/>
<circle cx="370.76" cy="560" r="0.9" fill="#000000" stroke="none" stroke-width="0.6"/>
<circle cx="387.2" cy="562.34" r="0.9" fill="#000000" stroke="none" stroke-width="0.6"/>
<path d="M321.46,558.82 L322.76,561.29 L320.16,561.29 Z" stroke="none" stroke-width="0.8" fill="#1010e0"/>
<path d="M337.89,558.82 L339.19,561.29 L336.59,561.29 Z" stroke="none" stroke-width="0.8" fill="#1010e0"/>
<path d="M354.33,558.74 L355.63,561.21 L353.03,561.21 Z" stroke="none" stroke-width="0.8" fill="#1010e0"/>
<path d="M370.76,558.57 L372.06,561.04 L369.46,561.04 Z" stroke="none" stroke-width="0.8" fill="#1010e0"/>
<path d="M387.2,558.41 L388.5,560.88 L385.9,560.88 Z" stroke="none" stroke-width="0.8" fill="#1010e0"/>
<path d="M403.64,557.9 L404.94,560.37 L402.34,560.37 Z" stroke="none" stroke-width="0.8" fill="#1010e0"/>
<circle cx="321.46" cy="559.58" r="1" fill="#8a10b0" stroke="none" stroke-width="0.6"/>
<circle cx="337.89" cy="559.67" r="1" fill="#8a10b0" stroke="none" stroke-width="0.6"/>
<circle cx="354.33" cy="559.67" r="1" fill="#8a10b0" stroke="none" stroke-width="0.6"/>
<circle cx="370.76" cy="559.67" r="1" fill="#8a10b0" stroke="none" stroke-width="0.6"/>
<circle cx="387.2" cy="559.5" r="1" fill="#8a10b0" stroke="none" stroke-width="0.6"/>
<circle cx="403.64" cy="559.17" r="1" fill="#8a10b0" stroke="none" stroke-width="0.6"/>
<circle cx="321.46" cy="557.33" r="1.35" fill="#18c818" stroke="none" stroke-width="0.6"/>
<circle cx="337.89" cy="559" r="1.35" fill="#18c818" stroke="none" stroke-width="0.6"/>
<circle cx="354.33" cy="561.25" r="1.35" fill="#18c818" stroke="none" stroke-width="0.6"/>
<circle cx="370.76" cy="559.33" r="1.35" fill="#18c818" stroke="none" stroke-width="0.6"/>
<circle cx="387.2" cy="543.13" r="1.35" fill="#18c818" stroke="none" stroke-width="0.6"/>
<circle cx="403.64" cy="543.13" r="1.35" fill="#18c818" stroke="none" stroke-width="0.6"/>
<circle cx="321.46" cy="564.68" r="1.35" fill="#ff1a1a" stroke="none" stroke-width="0.6"/>
<circle cx="337.89" cy="561.67" r="1.35" fill="#ff1a1a" stroke="none" stroke-width="0.6"/>
<circle cx="354.33" cy="547.98" r="1.35" fill="#ff1a1a" stroke="none" stroke-width="0.6"/>
<circle cx="370.76" cy="543.13" r="1.35" fill="#ff1a1a" stroke="none" stroke-width="0.6"/>
<circle cx="387.2" cy="544.3" r="1.35" fill="#ff1a1a" stroke="none" stroke-width="0.6"/>
<line x1="432" y1="533.5" x2="439.8" y2="533.5" stroke="#ff1a1a" stroke-width="0.8"/>
<circle cx="436" cy="533.5" r="1.8" fill="#ff1a1a" stroke="none" stroke-width="0.6"/>
<text x="444.7" y="535.77" font-size="6.3" textLength="70.1" lengthAdjust="spacingAndGlyphs">Coated 4lg_CAR EBVST</text>
<line x1="432" y1="543.2" x2="439.8" y2="543.2" stroke="#8a10b0" stroke-width="0.8"/>
<circle cx="436" cy="543.2" r="1.25" fill="#8a10b0" stroke="none" stroke-width="0.6"/>
<text x="444.7" y="545.47" font-size="6.3" textLength="71.3" lengthAdjust="spacingAndGlyphs">Soluble 4lg_CAR EBVST</text>
<line x1="432" y1="553.3" x2="439.8" y2="553.3" stroke="#18c818" stroke-width="0.8"/>
<circle cx="436" cy="553.3" r="1.8" fill="#18c818" stroke="none" stroke-width="0.6"/>
<text x="444.7" y="555.57" font-size="6.3" textLength="70.1" lengthAdjust="spacingAndGlyphs">Coated 2lg_CAR EBVST</text>
<line x1="432" y1="563.9" x2="439.8" y2="563.9" stroke="#1010e0" stroke-width="0.8"/>
<circle cx="436" cy="563.9" r="1.25" fill="#1010e0" stroke="none" stroke-width="0.6"/>
<text x="444.7" y="566.17" font-size="6.3" textLength="71.3" lengthAdjust="spacingAndGlyphs">Soluble 2lg_CAR EBVST</text>
<line x1="432" y1="576.2" x2="439.8" y2="576.2" stroke="#000000" stroke-width="0.8"/>
<circle cx="436" cy="576.2" r="1.25" fill="#000000" stroke="none" stroke-width="0.6"/>
<text x="444.7" y="578.47" font-size="6.3" textLength="66" lengthAdjust="spacingAndGlyphs">Coated 4lg_UT EBVST</text>
<text x="1.8" y="633.67" font-size="12.6" font-weight="bold" textLength="8.2" lengthAdjust="spacingAndGlyphs">G</text>
<text x="81.4" y="639.9" font-size="8.6" font-weight="bold" text-anchor="middle" textLength="33.6" lengthAdjust="spacingAndGlyphs">Donor A</text>
<line x1="25.75" y1="648.45" x2="25.75" y2="713" stroke="#333" stroke-width="1"/>
<line x1="25.75" y1="713" x2="131" y2="713" stroke="#333" stroke-width="1"/>
<line x1="22.75" y1="713" x2="25.75" y2="713" stroke="#333" stroke-width="0.8"/>
<text x="22.35" y="715.3" font-size="6.4" font-weight="bold" text-anchor="end">0</text>
<line x1="22.75" y1="700.15" x2="25.75" y2="700.15" stroke="#333" stroke-width="0.8"/>
<text x="22.35" y="702.45" font-size="6.4" font-weight="bold" text-anchor="end">20</text>
<line x1="22.75" y1="687.3" x2="25.75" y2="687.3" stroke="#333" stroke-width="0.8"/>
<text x="22.35" y="689.6" font-size="6.4" font-weight="bold" text-anchor="end">40</text>
<line x1="22.75" y1="674.45" x2="25.75" y2="674.45" stroke="#333" stroke-width="0.8"/>
<text x="22.35" y="676.75" font-size="6.4" font-weight="bold" text-anchor="end">60</text>
<line x1="22.75" y1="661.6" x2="25.75" y2="661.6" stroke="#333" stroke-width="0.8"/>
<text x="22.35" y="663.9" font-size="6.4" font-weight="bold" text-anchor="end">80</text>
<line x1="22.75" y1="648.75" x2="25.75" y2="648.75" stroke="#333" stroke-width="0.8"/>
<text x="22.35" y="651.05" font-size="6.4" font-weight="bold" text-anchor="end">100</text>
<line x1="35" y1="713" x2="35" y2="715.6" stroke="#333" stroke-width="0.8"/>
<text x="35" y="722.9" font-size="6.4" font-weight="bold" text-anchor="middle" textLength="3.34" lengthAdjust="spacingAndGlyphs">0</text>
<line x1="49.5" y1="713" x2="49.5" y2="715.6" stroke="#333" stroke-width="0.8"/>
<text x="49.5" y="722.9" font-size="6.4" font-weight="bold" text-anchor="middle" textLength="11.68" lengthAdjust="spacingAndGlyphs">0.39</text>
<line x1="64" y1="713" x2="64" y2="715.6" stroke="#333" stroke-width="0.8"/>
<text x="64" y="722.9" font-size="6.4" font-weight="bold" text-anchor="middle" textLength="11.68" lengthAdjust="spacingAndGlyphs">1.56</text>
<line x1="78.5" y1="713" x2="78.5" y2="715.6" stroke="#333" stroke-width="0.8"/>
<text x="78.5" y="722.9" font-size="6.4" font-weight="bold" text-anchor="middle" textLength="11.68" lengthAdjust="spacingAndGlyphs">6.25</text>
<line x1="93" y1="713" x2="93" y2="715.6" stroke="#333" stroke-width="0.8"/>
<text x="93" y="722.9" font-size="6.4" font-weight="bold" text-anchor="middle" textLength="6.67" lengthAdjust="spacingAndGlyphs">25</text>
<line x1="107.5" y1="713" x2="107.5" y2="715.6" stroke="#333" stroke-width="0.8"/>
<text x="107.5" y="722.9" font-size="6.4" font-weight="bold" text-anchor="middle" textLength="10.01" lengthAdjust="spacingAndGlyphs">100</text>
<line x1="122" y1="713" x2="122" y2="715.6" stroke="#333" stroke-width="0.8"/>
<text x="122" y="722.9" font-size="6.4" font-weight="bold" text-anchor="middle" textLength="10.01" lengthAdjust="spacingAndGlyphs">400</text>
<text x="85" y="733.18" font-size="6.9" font-weight="bold" text-anchor="middle" textLength="85" lengthAdjust="spacingAndGlyphs">[soluble B7H3]/(nmol/L)</text>
<text x="3.9" y="682.93" font-size="7.3" font-weight="bold" text-anchor="middle" textLength="44.9" lengthAdjust="spacingAndGlyphs" transform="rotate(-90 3.9 680.3)">Cytolysis (%)</text>
<polyline points="35,656.46 49.5,654.53 64,654.53 78.5,653.89 93,655.17 107.5,656.46 122,657.1" stroke="#ff8f8f" stroke-width="0.85" fill="none"/>
<circle cx="35" cy="656.46" r="1.1" fill="#ff8f8f" stroke="none" stroke-width="0.6"/>
<circle cx="49.5" cy="654.53" r="1.1" fill="#ff8f8f" stroke="none" stroke-width="0.6"/>
<circle cx="64" cy="654.53" r="1.1" fill="#ff8f8f" stroke="none" stroke-width="0.6"/>
<circle cx="78.5" cy="653.89" r="1.1" fill="#ff8f8f" stroke="none" stroke-width="0.6"/>
<circle cx="93" cy="655.17" r="1.1" fill="#ff8f8f" stroke="none" stroke-width="0.6"/>
<circle cx="107.5" cy="656.46" r="1.1" fill="#ff8f8f" stroke="none" stroke-width="0.6"/>
<circle cx="122" cy="657.1" r="1.1" fill="#ff8f8f" stroke="none" stroke-width="0.6"/>
<line x1="122" y1="659.03" x2="122" y2="655.17" stroke="#ff8f8f" stroke-width="0.6"/>
<line x1="120.7" y1="655.17" x2="123.3" y2="655.17" stroke="#ff8f8f" stroke-width="0.6"/>
<line x1="120.7" y1="659.03" x2="123.3" y2="659.03" stroke="#ff8f8f" stroke-width="0.6"/>
<polyline points="35,657.1 49.5,654.53 64,654.53 78.5,653.89 93,655.17 107.5,657.75 122,657.1" stroke="#4aa0ff" stroke-width="0.85" fill="none"/>
<circle cx="35" cy="657.1" r="1.1" fill="#4aa0ff" stroke="none" stroke-width="0.6"/>
<circle cx="49.5" cy="654.53" r="1.1" fill="#4aa0ff" stroke="none" stroke-width="0.6"/>
<circle cx="64" cy="654.53" r="1.1" fill="#4aa0ff" stroke="none" stroke-width="0.6"/>
<circle cx="78.5" cy="653.89" r="1.1" fill="#4aa0ff" stroke="none" stroke-width="0.6"/>
<circle cx="93" cy="655.17" r="1.1" fill="#4aa0ff" stroke="none" stroke-width="0.6"/>
<circle cx="107.5" cy="657.75" r="1.1" fill="#4aa0ff" stroke="none" stroke-width="0.6"/>
<circle cx="122" cy="657.1" r="1.1" fill="#4aa0ff" stroke="none" stroke-width="0.6"/>
<polyline points="35,696.94 49.5,693.73 64,690.51 78.5,694.37 93,699.51 107.5,696.94 122,696.94" stroke="#a51515" stroke-width="0.85" fill="none"/>
<circle cx="35" cy="696.94" r="1.1" fill="#a51515" stroke="none" stroke-width="0.6"/>
<circle cx="49.5" cy="693.73" r="1.1" fill="#a51515" stroke="none" stroke-width="0.6"/>
<circle cx="64" cy="690.51" r="1.1" fill="#a51515" stroke="none" stroke-width="0.6"/>
<circle cx="78.5" cy="694.37" r="1.1" fill="#a51515" stroke="none" stroke-width="0.6"/>
<circle cx="93" cy="699.51" r="1.1" fill="#a51515" stroke="none" stroke-width="0.6"/>
<circle cx="107.5" cy="696.94" r="1.1" fill="#a51515" stroke="none" stroke-width="0.6"/>
<circle cx="122" cy="696.94" r="1.1" fill="#a51515" stroke="none" stroke-width="0.6"/>
<line x1="49.5" y1="695.65" x2="49.5" y2="691.8" stroke="#a51515" stroke-width="0.6"/>
<line x1="48.2" y1="691.8" x2="50.8" y2="691.8" stroke="#a51515" stroke-width="0.6"/>
<line x1="48.2" y1="695.65" x2="50.8" y2="695.65" stroke="#a51515" stroke-width="0.6"/>
<line x1="107.5" y1="700.15" x2="107.5" y2="693.73" stroke="#a51515" stroke-width="0.6"/>
<line x1="106.2" y1="693.73" x2="108.8" y2="693.73" stroke="#a51515" stroke-width="0.6"/>
<line x1="106.2" y1="700.15" x2="108.8" y2="700.15" stroke="#a51515" stroke-width="0.6"/>
<polyline points="35,693.73 49.5,691.8 64,691.15 78.5,695.01 93,698.87 107.5,701.11 122,696.29" stroke="#0a0a8c" stroke-width="0.85" fill="none"/>
<circle cx="35" cy="693.73" r="1.1" fill="#0a0a8c" stroke="none" stroke-width="0.6"/>
<circle cx="49.5" cy="691.8" r="1.1" fill="#0a0a8c" stroke="none" stroke-width="0.6"/>
<circle cx="64" cy="691.15" r="1.1" fill="#0a0a8c" stroke="none" stroke-width="0.6"/>
<circle cx="78.5" cy="695.01" r="1.1" fill="#0a0a8c" stroke="none" stroke-width="0.6"/>
<circle cx="93" cy="698.87" r="1.1" fill="#0a0a8c" stroke="none" stroke-width="0.6"/>
<circle cx="107.5" cy="701.11" r="1.1" fill="#0a0a8c" stroke="none" stroke-width="0.6"/>
<circle cx="122" cy="696.29" r="1.1" fill="#0a0a8c" stroke="none" stroke-width="0.6"/>
<line x1="35" y1="695.65" x2="35" y2="691.8" stroke="#0a0a8c" stroke-width="0.6"/>
<line x1="33.7" y1="691.8" x2="36.3" y2="691.8" stroke="#0a0a8c" stroke-width="0.6"/>
<line x1="33.7" y1="695.65" x2="36.3" y2="695.65" stroke="#0a0a8c" stroke-width="0.6"/>
<line x1="49.5" y1="693.08" x2="49.5" y2="690.51" stroke="#0a0a8c" stroke-width="0.6"/>
<line x1="48.2" y1="690.51" x2="50.8" y2="690.51" stroke="#0a0a8c" stroke-width="0.6"/>
<line x1="48.2" y1="693.08" x2="50.8" y2="693.08" stroke="#0a0a8c" stroke-width="0.6"/>
<line x1="78.5" y1="696.94" x2="78.5" y2="693.08" stroke="#0a0a8c" stroke-width="0.6"/>
<line x1="77.2" y1="693.08" x2="79.8" y2="693.08" stroke="#0a0a8c" stroke-width="0.6"/>
<line x1="77.2" y1="696.94" x2="79.8" y2="696.94" stroke="#0a0a8c" stroke-width="0.6"/>
<polyline points="35,671.88 49.5,665.46 64,662.24 78.5,664.81 93,677.02 107.5,678.3 122,681.52" stroke="#ff2222" stroke-width="0.85" fill="none"/>
<circle cx="35" cy="671.88" r="1.1" fill="#ff2222" stroke="none" stroke-width="0.6"/>
<circle cx="49.5" cy="665.46" r="1.1" fill="#ff2222" stroke="none" stroke-width="0.6"/>
<circle cx="64" cy="662.24" r="1.1" fill="#ff2222" stroke="none" stroke-width="0.6"/>
<circle cx="78.5" cy="664.81" r="1.1" fill="#ff2222" stroke="none" stroke-width="0.6"/>
<circle cx="93" cy="677.02" r="1.1" fill="#ff2222" stroke="none" stroke-width="0.6"/>
<circle cx="107.5" cy="678.3" r="1.1" fill="#ff2222" stroke="none" stroke-width="0.6"/>
<circle cx="122" cy="681.52" r="1.1" fill="#ff2222" stroke="none" stroke-width="0.6"/>
<line x1="64" y1="664.81" x2="64" y2="659.67" stroke="#ff2222" stroke-width="0.6"/>
<line x1="62.7" y1="659.67" x2="65.3" y2="659.67" stroke="#ff2222" stroke-width="0.6"/>
<line x1="62.7" y1="664.81" x2="65.3" y2="664.81" stroke="#ff2222" stroke-width="0.6"/>
<line x1="78.5" y1="666.1" x2="78.5" y2="663.53" stroke="#ff2222" stroke-width="0.6"/>
<line x1="77.2" y1="663.53" x2="79.8" y2="663.53" stroke="#ff2222" stroke-width="0.6"/>
<line x1="77.2" y1="666.1" x2="79.8" y2="666.1" stroke="#ff2222" stroke-width="0.6"/>
<line x1="93" y1="678.95" x2="93" y2="675.09" stroke="#ff2222" stroke-width="0.6"/>
<line x1="91.7" y1="675.09" x2="94.3" y2="675.09" stroke="#ff2222" stroke-width="0.6"/>
<line x1="91.7" y1="678.95" x2="94.3" y2="678.95" stroke="#ff2222" stroke-width="0.6"/>
<line x1="107.5" y1="680.23" x2="107.5" y2="676.38" stroke="#ff2222" stroke-width="0.6"/>
<line x1="106.2" y1="676.38" x2="108.8" y2="676.38" stroke="#ff2222" stroke-width="0.6"/>
<line x1="106.2" y1="680.23" x2="108.8" y2="680.23" stroke="#ff2222" stroke-width="0.6"/>
<line x1="122" y1="682.8" x2="122" y2="680.23" stroke="#ff2222" stroke-width="0.6"/>
<line x1="120.7" y1="680.23" x2="123.3" y2="680.23" stroke="#ff2222" stroke-width="0.6"/>
<line x1="120.7" y1="682.8" x2="123.3" y2="682.8" stroke="#ff2222" stroke-width="0.6"/>
<polyline points="35,669.95 49.5,664.81 64,660.96 78.5,664.81 93,676.38 107.5,683.77 122,680.23" stroke="#2a2ae6" stroke-width="0.85" fill="none"/>
<circle cx="35" cy="669.95" r="1.1" fill="#2a2ae6" stroke="none" stroke-width="0.6"/>
<circle cx="49.5" cy="664.81" r="1.1" fill="#2a2ae6" stroke="none" stroke-width="0.6"/>
<circle cx="64" cy="660.96" r="1.1" fill="#2a2ae6" stroke="none" stroke-width="0.6"/>
<circle cx="78.5" cy="664.81" r="1.1" fill="#2a2ae6" stroke="none" stroke-width="0.6"/>
<circle cx="93" cy="676.38" r="1.1" fill="#2a2ae6" stroke="none" stroke-width="0.6"/>
<circle cx="107.5" cy="683.77" r="1.1" fill="#2a2ae6" stroke="none" stroke-width="0.6"/>
<circle cx="122" cy="680.23" r="1.1" fill="#2a2ae6" stroke="none" stroke-width="0.6"/>
<line x1="49.5" y1="666.1" x2="49.5" y2="663.53" stroke="#2a2ae6" stroke-width="0.6"/>
<line x1="48.2" y1="663.53" x2="50.8" y2="663.53" stroke="#2a2ae6" stroke-width="0.6"/>
<line x1="48.2" y1="666.1" x2="50.8" y2="666.1" stroke="#2a2ae6" stroke-width="0.6"/>
<line x1="93" y1="677.66" x2="93" y2="675.09" stroke="#2a2ae6" stroke-width="0.6"/>
<line x1="91.7" y1="675.09" x2="94.3" y2="675.09" stroke="#2a2ae6" stroke-width="0.6"/>
<line x1="91.7" y1="677.66" x2="94.3" y2="677.66" stroke="#2a2ae6" stroke-width="0.6"/>
<line x1="122" y1="682.16" x2="122" y2="678.3" stroke="#2a2ae6" stroke-width="0.6"/>
<line x1="120.7" y1="678.3" x2="123.3" y2="678.3" stroke="#2a2ae6" stroke-width="0.6"/>
<line x1="120.7" y1="682.16" x2="123.3" y2="682.16" stroke="#2a2ae6" stroke-width="0.6"/>
<text x="221.6" y="639.5" font-size="8.6" font-weight="bold" text-anchor="middle" textLength="33.6" lengthAdjust="spacingAndGlyphs">Donor B</text>
<line x1="166.8" y1="648.7" x2="166.8" y2="713.2" stroke="#333" stroke-width="1"/>
<line x1="166.8" y1="713.2" x2="272" y2="713.2" stroke="#333" stroke-width="1"/>
<line x1="163.8" y1="713.2" x2="166.8" y2="713.2" stroke="#333" stroke-width="0.8"/>
<text x="163.4" y="715.5" font-size="6.4" font-weight="bold" text-anchor="end">0</text>
<line x1="163.8" y1="700.36" x2="166.8" y2="700.36" stroke="#333" stroke-width="0.8"/>
<text x="163.4" y="702.66" font-size="6.4" font-weight="bold" text-anchor="end">20</text>
<line x1="163.8" y1="687.52" x2="166.8" y2="687.52" stroke="#333" stroke-width="0.8"/>
<text x="163.4" y="689.82" font-size="6.4" font-weight="bold" text-anchor="end">40</text>
<line x1="163.8" y1="674.68" x2="166.8" y2="674.68" stroke="#333" stroke-width="0.8"/>
<text x="163.4" y="676.98" font-size="6.4" font-weight="bold" text-anchor="end">60</text>
<line x1="163.8" y1="661.84" x2="166.8" y2="661.84" stroke="#333" stroke-width="0.8"/>
<text x="163.4" y="664.14" font-size="6.4" font-weight="bold" text-anchor="end">80</text>
<line x1="163.8" y1="649" x2="166.8" y2="649" stroke="#333" stroke-width="0.8"/>
<text x="163.4" y="651.3" font-size="6.4" font-weight="bold" text-anchor="end">100</text>
<line x1="176.2" y1="713.2" x2="176.2" y2="715.8" stroke="#333" stroke-width="0.8"/>
<text x="176.2" y="722.9" font-size="6.4" font-weight="bold" text-anchor="middle" textLength="3.34" lengthAdjust="spacingAndGlyphs">0</text>
<line x1="190.6" y1="713.2" x2="190.6" y2="715.8" stroke="#333" stroke-width="0.8"/>
<text x="190.6" y="722.9" font-size="6.4" font-weight="bold" text-anchor="middle" textLength="11.68" lengthAdjust="spacingAndGlyphs">0.39</text>
<line x1="205" y1="713.2" x2="205" y2="715.8" stroke="#333" stroke-width="0.8"/>
<text x="205" y="722.9" font-size="6.4" font-weight="bold" text-anchor="middle" textLength="11.68" lengthAdjust="spacingAndGlyphs">1.56</text>
<line x1="219.4" y1="713.2" x2="219.4" y2="715.8" stroke="#333" stroke-width="0.8"/>
<text x="219.4" y="722.9" font-size="6.4" font-weight="bold" text-anchor="middle" textLength="11.68" lengthAdjust="spacingAndGlyphs">6.25</text>
<line x1="233.8" y1="713.2" x2="233.8" y2="715.8" stroke="#333" stroke-width="0.8"/>
<text x="233.8" y="722.9" font-size="6.4" font-weight="bold" text-anchor="middle" textLength="6.67" lengthAdjust="spacingAndGlyphs">25</text>
<line x1="248.2" y1="713.2" x2="248.2" y2="715.8" stroke="#333" stroke-width="0.8"/>
<text x="248.2" y="722.9" font-size="6.4" font-weight="bold" text-anchor="middle" textLength="10.01" lengthAdjust="spacingAndGlyphs">100</text>
<line x1="262.6" y1="713.2" x2="262.6" y2="715.8" stroke="#333" stroke-width="0.8"/>
<text x="262.6" y="722.9" font-size="6.4" font-weight="bold" text-anchor="middle" textLength="10.01" lengthAdjust="spacingAndGlyphs">400</text>
<text x="225.5" y="733.18" font-size="6.9" font-weight="bold" text-anchor="middle" textLength="85" lengthAdjust="spacingAndGlyphs">[soluble B7H3]/(nmol/L)</text>
<text x="144.5" y="682.93" font-size="7.3" font-weight="bold" text-anchor="middle" textLength="44.9" lengthAdjust="spacingAndGlyphs" transform="rotate(-90 144.5 680.3)">Cytolysis (%)</text>
<polyline points="176.2,666.59 190.6,666.01 205,665.69 219.4,664.73 233.8,665.05 248.2,663.77 262.6,668.52" stroke="#ff8f8f" stroke-width="0.85" fill="none"/>
<circle cx="176.2" cy="666.59" r="1.1" fill="#ff8f8f" stroke="none" stroke-width="0.6"/>
<circle cx="190.6" cy="666.01" r="1.1" fill="#ff8f8f" stroke="none" stroke-width="0.6"/>
<circle cx="205" cy="665.69" r="1.1" fill="#ff8f8f" stroke="none" stroke-width="0.6"/>
<circle cx="219.4" cy="664.73" r="1.1" fill="#ff8f8f" stroke="none" stroke-width="0.6"/>
<circle cx="233.8" cy="665.05" r="1.1" fill="#ff8f8f" stroke="none" stroke-width="0.6"/>
<circle cx="248.2" cy="663.77" r="1.1" fill="#ff8f8f" stroke="none" stroke-width="0.6"/>
<circle cx="262.6" cy="668.52" r="1.1" fill="#ff8f8f" stroke="none" stroke-width="0.6"/>
<line x1="262.6" y1="676.86" x2="262.6" y2="660.17" stroke="#ff8f8f" stroke-width="0.6"/>
<line x1="261.3" y1="660.17" x2="263.9" y2="660.17" stroke="#ff8f8f" stroke-width="0.6"/>
<line x1="261.3" y1="676.86" x2="263.9" y2="676.86" stroke="#ff8f8f" stroke-width="0.6"/>
<line x1="233.8" y1="666.33" x2="233.8" y2="663.77" stroke="#ff8f8f" stroke-width="0.6"/>
<line x1="232.5" y1="663.77" x2="235.1" y2="663.77" stroke="#ff8f8f" stroke-width="0.6"/>
<line x1="232.5" y1="666.33" x2="235.1" y2="666.33" stroke="#ff8f8f" stroke-width="0.6"/>
<polyline points="176.2,665.44 190.6,665.56 205,665.05 219.4,665.88 233.8,665.69 248.2,663.77 262.6,662.61" stroke="#4aa0ff" stroke-width="0.85" fill="none"/>
<circle cx="176.2" cy="665.44" r="1.1" fill="#4aa0ff" stroke="none" stroke-width="0.6"/>
<circle cx="190.6" cy="665.56" r="1.1" fill="#4aa0ff" stroke="none" stroke-width="0.6"/>
<circle cx="205" cy="665.05" r="1.1" fill="#4aa0ff" stroke="none" stroke-width="0.6"/>
<circle cx="219.4" cy="665.88" r="1.1" fill="#4aa0ff" stroke="none" stroke-width="0.6"/>
<circle cx="233.8" cy="665.69" r="1.1" fill="#4aa0ff" stroke="none" stroke-width="0.6"/>
<circle cx="248.2" cy="663.77" r="1.1" fill="#4aa0ff" stroke="none" stroke-width="0.6"/>
<circle cx="262.6" cy="662.61" r="1.1" fill="#4aa0ff" stroke="none" stroke-width="0.6"/>
<line x1="262.6" y1="664.54" x2="262.6" y2="660.68" stroke="#4aa0ff" stroke-width="0.6"/>
<line x1="261.3" y1="660.68" x2="263.9" y2="660.68" stroke="#4aa0ff" stroke-width="0.6"/>
<line x1="261.3" y1="664.54" x2="263.9" y2="664.54" stroke="#4aa0ff" stroke-width="0.6"/>
<polyline points="176.2,693.3 190.6,692.01 205,693.3 219.4,692.01 233.8,691.37 248.2,690.73 262.6,692.66" stroke="#a51515" stroke-width="0.85" fill="none"/>
<circle cx="176.2" cy="693.3" r="1.1" fill="#a51515" stroke="none" stroke-width="0.6"/>
<circle cx="190.6" cy="692.01" r="1.1" fill="#a51515" stroke="none" stroke-width="0.6"/>
<circle cx="205" cy="693.3" r="1.1" fill="#a51515" stroke="none" stroke-width="0.6"/>
<circle cx="219.4" cy="692.01" r="1.1" fill="#a51515" stroke="none" stroke-width="0.6"/>
<circle cx="233.8" cy="691.37" r="1.1" fill="#a51515" stroke="none" stroke-width="0.6"/>
<circle cx="248.2" cy="690.73" r="1.1" fill="#a51515" stroke="none" stroke-width="0.6"/>
<circle cx="262.6" cy="692.66" r="1.1" fill="#a51515" stroke="none" stroke-width="0.6"/>
<line x1="262.6" y1="700.36" x2="262.6" y2="684.95" stroke="#a51515" stroke-width="0.6"/>
<line x1="261.3" y1="684.95" x2="263.9" y2="684.95" stroke="#a51515" stroke-width="0.6"/>
<line x1="261.3" y1="700.36" x2="263.9" y2="700.36" stroke="#a51515" stroke-width="0.6"/>
<polyline points="176.2,692.98 190.6,692.01 205,693.3 219.4,694.33 233.8,693.3 248.2,692.01 262.6,695.22" stroke="#0a0a8c" stroke-width="0.85" fill="none"/>
<circle cx="176.2" cy="692.98" r="1.1" fill="#0a0a8c" stroke="none" stroke-width="0.6"/>
<circle cx="190.6" cy="692.01" r="1.1" fill="#0a0a8c" stroke="none" stroke-width="0.6"/>
<circle cx="205" cy="693.3" r="1.1" fill="#0a0a8c" stroke="none" stroke-width="0.6"/>
<circle cx="219.4" cy="694.33" r="1.1" fill="#0a0a8c" stroke="none" stroke-width="0.6"/>
<circle cx="233.8" cy="693.3" r="1.1" fill="#0a0a8c" stroke="none" stroke-width="0.6"/>
<circle cx="248.2" cy="692.01" r="1.1" fill="#0a0a8c" stroke="none" stroke-width="0.6"/>
<circle cx="262.6" cy="695.22" r="1.1" fill="#0a0a8c" stroke="none" stroke-width="0.6"/>
<line x1="262.6" y1="697.79" x2="262.6" y2="692.66" stroke="#0a0a8c" stroke-width="0.6"/>
<line x1="261.3" y1="692.66" x2="263.9" y2="692.66" stroke="#0a0a8c" stroke-width="0.6"/>
<line x1="261.3" y1="697.79" x2="263.9" y2="697.79" stroke="#0a0a8c" stroke-width="0.6"/>
<polyline points="176.2,688.48 190.6,688.16 205,688.48 219.4,687.84 233.8,687.2 248.2,687.2 262.6,689.45" stroke="#ff2222" stroke-width="0.85" fill="none"/>
<circle cx="176.2" cy="688.48" r="1.1" fill="#ff2222" stroke="none" stroke-width="0.6"/>
<circle cx="190.6" cy="688.16" r="1.1" fill="#ff2222" stroke="none" stroke-width="0.6"/>
<circle cx="205" cy="688.48" r="1.1" fill="#ff2222" stroke="none" stroke-width="0.6"/>
<circle cx="219.4" cy="687.84" r="1.1" fill="#ff2222" stroke="none" stroke-width="0.6"/>
<circle cx="233.8" cy="687.2" r="1.1" fill="#ff2222" stroke="none" stroke-width="0.6"/>
<circle cx="248.2" cy="687.2" r="1.1" fill="#ff2222" stroke="none" stroke-width="0.6"/>
<circle cx="262.6" cy="689.45" r="1.1" fill="#ff2222" stroke="none" stroke-width="0.6"/>
<line x1="262.6" y1="694.58" x2="262.6" y2="684.31" stroke="#ff2222" stroke-width="0.6"/>
<line x1="261.3" y1="684.31" x2="263.9" y2="684.31" stroke="#ff2222" stroke-width="0.6"/>
<line x1="261.3" y1="694.58" x2="263.9" y2="694.58" stroke="#ff2222" stroke-width="0.6"/>
<polyline points="176.2,692.66 190.6,688.48 205,689.7 219.4,689.45 233.8,689.45 248.2,688.8 262.6,687.52" stroke="#2a2ae6" stroke-width="0.85" fill="none"/>
<circle cx="176.2" cy="692.66" r="1.1" fill="#2a2ae6" stroke="none" stroke-width="0.6"/>
<circle cx="190.6" cy="688.48" r="1.1" fill="#2a2ae6" stroke="none" stroke-width="0.6"/>
<circle cx="205" cy="689.7" r="1.1" fill="#2a2ae6" stroke="none" stroke-width="0.6"/>
<circle cx="219.4" cy="689.45" r="1.1" fill="#2a2ae6" stroke="none" stroke-width="0.6"/>
<circle cx="233.8" cy="689.45" r="1.1" fill="#2a2ae6" stroke="none" stroke-width="0.6"/>
<circle cx="248.2" cy="688.8" r="1.1" fill="#2a2ae6" stroke="none" stroke-width="0.6"/>
<circle cx="262.6" cy="687.52" r="1.1" fill="#2a2ae6" stroke="none" stroke-width="0.6"/>
<line x1="262.6" y1="690.73" x2="262.6" y2="684.31" stroke="#2a2ae6" stroke-width="0.6"/>
<line x1="261.3" y1="684.31" x2="263.9" y2="684.31" stroke="#2a2ae6" stroke-width="0.6"/>
<line x1="261.3" y1="690.73" x2="263.9" y2="690.73" stroke="#2a2ae6" stroke-width="0.6"/>
<text x="362.4" y="640.6" font-size="8.6" font-weight="bold" text-anchor="middle" textLength="33.6" lengthAdjust="spacingAndGlyphs">Donor C</text>
<line x1="308.5" y1="649.3" x2="308.5" y2="713.8" stroke="#333" stroke-width="1"/>
<line x1="308.5" y1="713.8" x2="413.7" y2="713.8" stroke="#333" stroke-width="1"/>
<line x1="305.5" y1="713.8" x2="308.5" y2="713.8" stroke="#333" stroke-width="0.8"/>
<text x="305.1" y="716.1" font-size="6.4" font-weight="bold" text-anchor="end">0</text>
<line x1="305.5" y1="700.96" x2="308.5" y2="700.96" stroke="#333" stroke-width="0.8"/>
<text x="305.1" y="703.26" font-size="6.4" font-weight="bold" text-anchor="end">20</text>
<line x1="305.5" y1="688.12" x2="308.5" y2="688.12" stroke="#333" stroke-width="0.8"/>
<text x="305.1" y="690.42" font-size="6.4" font-weight="bold" text-anchor="end">40</text>
<line x1="305.5" y1="675.28" x2="308.5" y2="675.28" stroke="#333" stroke-width="0.8"/>
<text x="305.1" y="677.58" font-size="6.4" font-weight="bold" text-anchor="end">60</text>
<line x1="305.5" y1="662.44" x2="308.5" y2="662.44" stroke="#333" stroke-width="0.8"/>
<text x="305.1" y="664.74" font-size="6.4" font-weight="bold" text-anchor="end">80</text>
<line x1="305.5" y1="649.6" x2="308.5" y2="649.6" stroke="#333" stroke-width="0.8"/>
<text x="305.1" y="651.9" font-size="6.4" font-weight="bold" text-anchor="end">100</text>
<line x1="318" y1="713.8" x2="318" y2="716.4" stroke="#333" stroke-width="0.8"/>
<text x="318" y="722.9" font-size="6.4" font-weight="bold" text-anchor="middle" textLength="3.34" lengthAdjust="spacingAndGlyphs">0</text>
<line x1="332.44" y1="713.8" x2="332.44" y2="716.4" stroke="#333" stroke-width="0.8"/>
<text x="332.44" y="722.9" font-size="6.4" font-weight="bold" text-anchor="middle" textLength="11.68" lengthAdjust="spacingAndGlyphs">0.39</text>
<line x1="346.88" y1="713.8" x2="346.88" y2="716.4" stroke="#333" stroke-width="0.8"/>
<text x="346.88" y="722.9" font-size="6.4" font-weight="bold" text-anchor="middle" textLength="11.68" lengthAdjust="spacingAndGlyphs">1.56</text>
<line x1="361.32" y1="713.8" x2="361.32" y2="716.4" stroke="#333" stroke-width="0.8"/>
<text x="361.32" y="722.9" font-size="6.4" font-weight="bold" text-anchor="middle" textLength="11.68" lengthAdjust="spacingAndGlyphs">6.25</text>
<line x1="375.76" y1="713.8" x2="375.76" y2="716.4" stroke="#333" stroke-width="0.8"/>
<text x="375.76" y="722.9" font-size="6.4" font-weight="bold" text-anchor="middle" textLength="6.67" lengthAdjust="spacingAndGlyphs">25</text>
<line x1="390.2" y1="713.8" x2="390.2" y2="716.4" stroke="#333" stroke-width="0.8"/>
<text x="390.2" y="722.9" font-size="6.4" font-weight="bold" text-anchor="middle" textLength="10.01" lengthAdjust="spacingAndGlyphs">100</text>
<line x1="404.64" y1="713.8" x2="404.64" y2="716.4" stroke="#333" stroke-width="0.8"/>
<text x="404.64" y="722.9" font-size="6.4" font-weight="bold" text-anchor="middle" textLength="10.01" lengthAdjust="spacingAndGlyphs">400</text>
<text x="368" y="733.18" font-size="6.9" font-weight="bold" text-anchor="middle" textLength="85" lengthAdjust="spacingAndGlyphs">[soluble B7H3]/(nmol/L)</text>
<text x="286.3" y="682.93" font-size="7.3" font-weight="bold" text-anchor="middle" textLength="44.9" lengthAdjust="spacingAndGlyphs" transform="rotate(-90 286.3 680.3)">Cytolysis (%)</text>
<polyline points="318,662.44 332.44,661.16 346.88,661.8 361.32,661.8 375.76,663.72 390.2,663.08 404.64,665.65" stroke="#ff8f8f" stroke-width="0.85" fill="none"/>
<circle cx="318" cy="662.44" r="1.1" fill="#ff8f8f" stroke="none" stroke-width="0.6"/>
<circle cx="332.44" cy="661.16" r="1.1" fill="#ff8f8f" stroke="none" stroke-width="0.6"/>
<circle cx="346.88" cy="661.8" r="1.1" fill="#ff8f8f" stroke="none" stroke-width="0.6"/>
<circle cx="361.32" cy="661.8" r="1.1" fill="#ff8f8f" stroke="none" stroke-width="0.6"/>
<circle cx="375.76" cy="663.72" r="1.1" fill="#ff8f8f" stroke="none" stroke-width="0.6"/>
<circle cx="390.2" cy="663.08" r="1.1" fill="#ff8f8f" stroke="none" stroke-width="0.6"/>
<circle cx="404.64" cy="665.65" r="1.1" fill="#ff8f8f" stroke="none" stroke-width="0.6"/>
<line x1="375.76" y1="665.01" x2="375.76" y2="662.44" stroke="#ff8f8f" stroke-width="0.6"/>
<line x1="374.46" y1="662.44" x2="377.06" y2="662.44" stroke="#ff8f8f" stroke-width="0.6"/>
<line x1="374.46" y1="665.01" x2="377.06" y2="665.01" stroke="#ff8f8f" stroke-width="0.6"/>
<line x1="390.2" y1="664.37" x2="390.2" y2="661.8" stroke="#ff8f8f" stroke-width="0.6"/>
<line x1="388.9" y1="661.8" x2="391.5" y2="661.8" stroke="#ff8f8f" stroke-width="0.6"/>
<line x1="388.9" y1="664.37" x2="391.5" y2="664.37" stroke="#ff8f8f" stroke-width="0.6"/>
<polyline points="318,664.11 332.44,662.44 346.88,665.01 361.32,663.72 375.76,663.08 390.2,661.16 404.64,659.23" stroke="#4aa0ff" stroke-width="0.85" fill="none"/>
<circle cx="318" cy="664.11" r="1.1" fill="#4aa0ff" stroke="none" stroke-width="0.6"/>
<circle cx="332.44" cy="662.44" r="1.1" fill="#4aa0ff" stroke="none" stroke-width="0.6"/>
<circle cx="346.88" cy="665.01" r="1.1" fill="#4aa0ff" stroke="none" stroke-width="0.6"/>
<circle cx="361.32" cy="663.72" r="1.1" fill="#4aa0ff" stroke="none" stroke-width="0.6"/>
<circle cx="375.76" cy="663.08" r="1.1" fill="#4aa0ff" stroke="none" stroke-width="0.6"/>
<circle cx="390.2" cy="661.16" r="1.1" fill="#4aa0ff" stroke="none" stroke-width="0.6"/>
<circle cx="404.64" cy="659.23" r="1.1" fill="#4aa0ff" stroke="none" stroke-width="0.6"/>
<line x1="375.76" y1="664.37" x2="375.76" y2="661.8" stroke="#4aa0ff" stroke-width="0.6"/>
<line x1="374.46" y1="661.8" x2="377.06" y2="661.8" stroke="#4aa0ff" stroke-width="0.6"/>
<line x1="374.46" y1="664.37" x2="377.06" y2="664.37" stroke="#4aa0ff" stroke-width="0.6"/>
<polyline points="318,693.26 332.44,692.61 346.88,695.82 361.32,695.18 375.76,694.54 390.2,693.26 404.64,692.61" stroke="#a51515" stroke-width="0.85" fill="none"/>
<circle cx="318" cy="693.26" r="1.1" fill="#a51515" stroke="none" stroke-width="0.6"/>
<circle cx="332.44" cy="692.61" r="1.1" fill="#a51515" stroke="none" stroke-width="0.6"/>
<circle cx="346.88" cy="695.82" r="1.1" fill="#a51515" stroke="none" stroke-width="0.6"/>
<circle cx="361.32" cy="695.18" r="1.1" fill="#a51515" stroke="none" stroke-width="0.6"/>
<circle cx="375.76" cy="694.54" r="1.1" fill="#a51515" stroke="none" stroke-width="0.6"/>
<circle cx="390.2" cy="693.26" r="1.1" fill="#a51515" stroke="none" stroke-width="0.6"/>
<circle cx="404.64" cy="692.61" r="1.1" fill="#a51515" stroke="none" stroke-width="0.6"/>
<polyline points="318,695.82 332.44,697.11 346.88,699.68 361.32,698.39 375.76,696.47 390.2,693.9 404.64,693.26" stroke="#0a0a8c" stroke-width="0.85" fill="none"/>
<circle cx="318" cy="695.82" r="1.1" fill="#0a0a8c" stroke="none" stroke-width="0.6"/>
<circle cx="332.44" cy="697.11" r="1.1" fill="#0a0a8c" stroke="none" stroke-width="0.6"/>
<circle cx="346.88" cy="699.68" r="1.1" fill="#0a0a8c" stroke="none" stroke-width="0.6"/>
<circle cx="361.32" cy="698.39" r="1.1" fill="#0a0a8c" stroke="none" stroke-width="0.6"/>
<circle cx="375.76" cy="696.47" r="1.1" fill="#0a0a8c" stroke="none" stroke-width="0.6"/>
<circle cx="390.2" cy="693.9" r="1.1" fill="#0a0a8c" stroke="none" stroke-width="0.6"/>
<circle cx="404.64" cy="693.26" r="1.1" fill="#0a0a8c" stroke="none" stroke-width="0.6"/>
<polyline points="318,692.61 332.44,691.33 346.88,692.61 361.32,692.61 375.76,693.26 390.2,692.61 404.64,691.33" stroke="#ff2222" stroke-width="0.85" fill="none"/>
<circle cx="318" cy="692.61" r="1.1" fill="#ff2222" stroke="none" stroke-width="0.6"/>
<circle cx="332.44" cy="691.33" r="1.1" fill="#ff2222" stroke="none" stroke-width="0.6"/>
<circle cx="346.88" cy="692.61" r="1.1" fill="#ff2222" stroke="none" stroke-width="0.6"/>
<circle cx="361.32" cy="692.61" r="1.1" fill="#ff2222" stroke="none" stroke-width="0.6"/>
<circle cx="375.76" cy="693.26" r="1.1" fill="#ff2222" stroke="none" stroke-width="0.6"/>
<circle cx="390.2" cy="692.61" r="1.1" fill="#ff2222" stroke="none" stroke-width="0.6"/>
<circle cx="404.64" cy="691.33" r="1.1" fill="#ff2222" stroke="none" stroke-width="0.6"/>
<polyline points="318,694.54 332.44,694.54 346.88,694.54 361.32,693.9 375.76,695.18 390.2,690.05 404.64,685.87" stroke="#2a2ae6" stroke-width="0.85" fill="none"/>
<circle cx="318" cy="694.54" r="1.1" fill="#2a2ae6" stroke="none" stroke-width="0.6"/>
<circle cx="332.44" cy="694.54" r="1.1" fill="#2a2ae6" stroke="none" stroke-width="0.6"/>
<circle cx="346.88" cy="694.54" r="1.1" fill="#2a2ae6" stroke="none" stroke-width="0.6"/>
<circle cx="361.32" cy="693.9" r="1.1" fill="#2a2ae6" stroke="none" stroke-width="0.6"/>
<circle cx="375.76" cy="695.18" r="1.1" fill="#2a2ae6" stroke="none" stroke-width="0.6"/>
<circle cx="390.2" cy="690.05" r="1.1" fill="#2a2ae6" stroke="none" stroke-width="0.6"/>
<circle cx="404.64" cy="685.87" r="1.1" fill="#2a2ae6" stroke="none" stroke-width="0.6"/>
<line x1="431.2" y1="656.1" x2="438.8" y2="656.1" stroke="#a51515" stroke-width="0.85"/>
<circle cx="435" cy="656.1" r="1.55" fill="#a51515" stroke="none" stroke-width="0.6"/>
<text x="443.9" y="658.4" font-size="6.4" font-weight="bold" textLength="40.8" lengthAdjust="spacingAndGlyphs">B7H3 2 lg (3h)</text>
<line x1="431.2" y1="666.48" x2="438.8" y2="666.48" stroke="#ff2222" stroke-width="0.85"/>
<circle cx="435" cy="666.48" r="1.55" fill="#ff2222" stroke="none" stroke-width="0.6"/>
<text x="443.9" y="668.78" font-size="6.4" font-weight="bold" textLength="40.8" lengthAdjust="spacingAndGlyphs">B7H3 2 lg (6h)</text>
<line x1="431.2" y1="676.86" x2="438.8" y2="676.86" stroke="#ff8f8f" stroke-width="0.85"/>
<circle cx="435" cy="676.86" r="1.55" fill="#ff8f8f" stroke="none" stroke-width="0.6"/>
<text x="443.9" y="679.16" font-size="6.4" font-weight="bold" textLength="44.7" lengthAdjust="spacingAndGlyphs">B7H3 2 lg (12h)</text>
<line x1="431.2" y1="687.24" x2="438.8" y2="687.24" stroke="#0a0a8c" stroke-width="0.85"/>
<circle cx="435" cy="687.24" r="1.55" fill="#0a0a8c" stroke="none" stroke-width="0.6"/>
<text x="443.9" y="689.54" font-size="6.4" font-weight="bold" textLength="40.8" lengthAdjust="spacingAndGlyphs">B7H3 4 lg (3h)</text>
<line x1="431.2" y1="697.62" x2="438.8" y2="697.62" stroke="#2a2ae6" stroke-width="0.85"/>
<circle cx="435" cy="697.62" r="1.55" fill="#2a2ae6" stroke="none" stroke-width="0.6"/>
<text x="443.9" y="699.92" font-size="6.4" font-weight="bold" textLength="40.8" lengthAdjust="spacingAndGlyphs">B7H3 4 lg (6h)</text>
<line x1="431.2" y1="708" x2="438.8" y2="708" stroke="#4aa0ff" stroke-width="0.85"/>
<circle cx="435" cy="708" r="1.55" fill="#4aa0ff" stroke="none" stroke-width="0.6"/>
<text x="443.9" y="710.3" font-size="6.4" font-weight="bold" textLength="44.7" lengthAdjust="spacingAndGlyphs">B7H3 4 lg (12h)</text>
</svg>
</body></html>
